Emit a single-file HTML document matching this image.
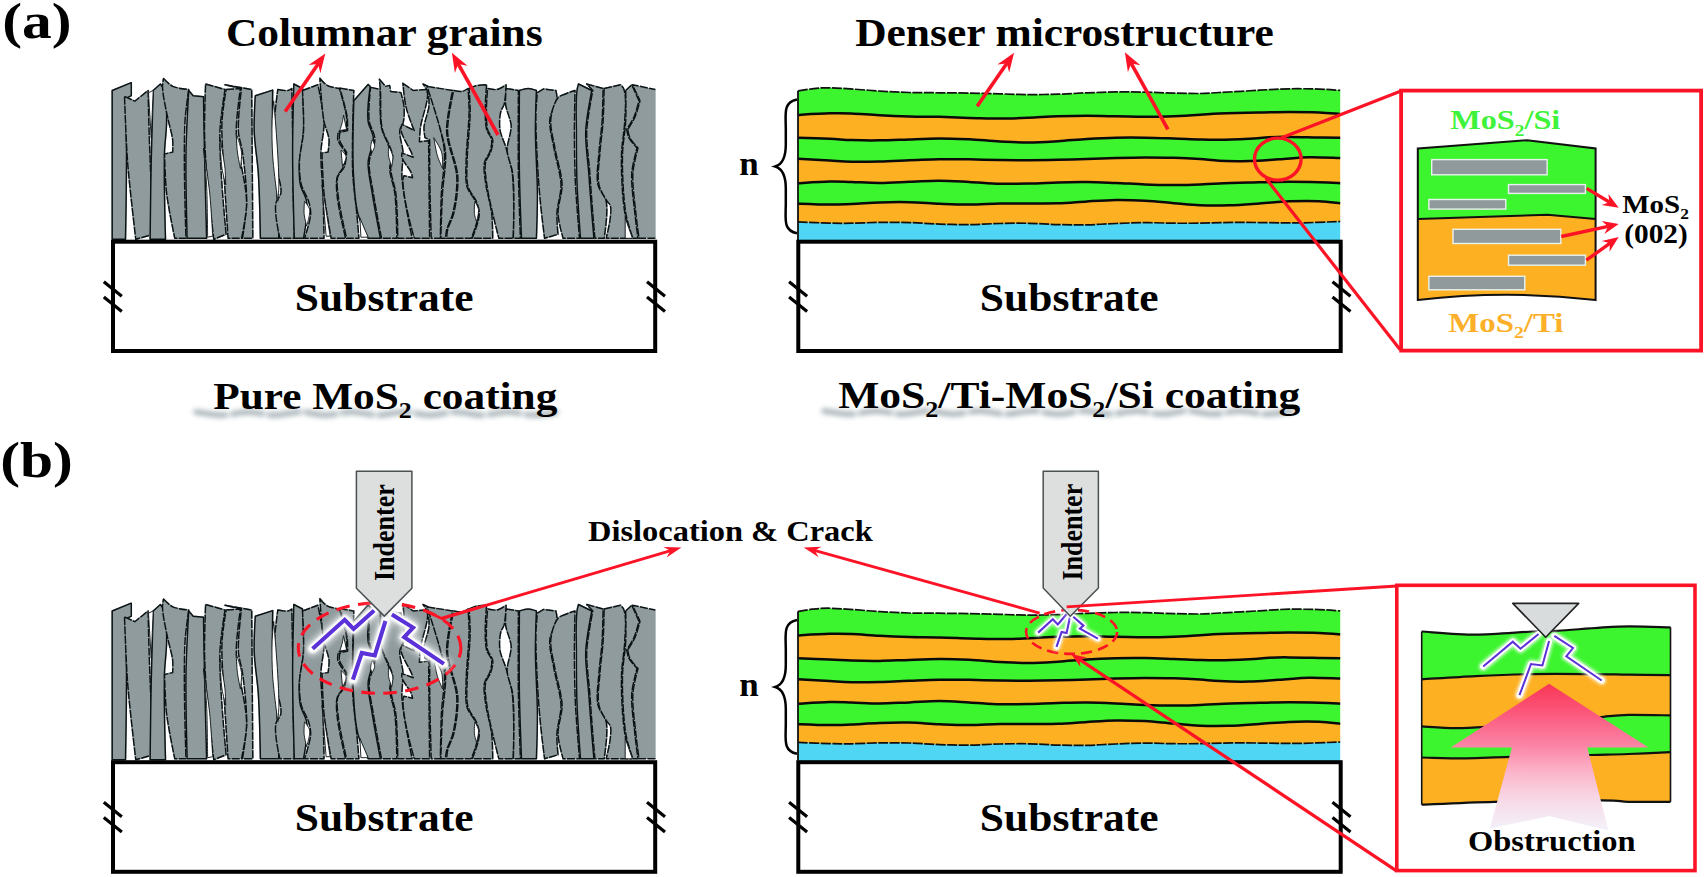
<!DOCTYPE html>
<html><head><meta charset="utf-8"><title>Coating microstructure schematic</title>
<style>html,body{margin:0;padding:0;background:#fff;overflow:hidden}svg{display:block}text{font-family:"Liberation Serif","Times New Roman",serif;font-weight:bold}</style>
</head><body>
<svg width="1706" height="877" viewBox="0 0 1706 877">
<defs>
<filter id="blur2" x="-10%" y="-300%" width="120%" height="700%"><feGaussianBlur stdDeviation="2.4"/></filter>
<filter id="glow" x="-30%" y="-30%" width="160%" height="160%"><feGaussianBlur stdDeviation="3.2"/></filter>
<filter id="glow1" x="-30%" y="-30%" width="160%" height="160%"><feGaussianBlur stdDeviation="1.6"/></filter>
<filter id="glowb" x="-30%" y="-30%" width="160%" height="160%"><feGaussianBlur stdDeviation="1.3"/></filter>
<filter id="glow1b" x="-30%" y="-30%" width="160%" height="160%"><feGaussianBlur stdDeviation="0.7"/></filter>
<linearGradient id="pink" x1="0" y1="0" x2="0" y2="1"><stop offset="0" stop-color="#f93656"/><stop offset="0.2" stop-color="#fb587c"/><stop offset="0.43" stop-color="#fb86a8"/><stop offset="0.6" stop-color="#fbb4c9"/><stop offset="0.8" stop-color="#f7dbe8"/><stop offset="1" stop-color="#f3f2fb"/></linearGradient>
</defs>
<rect width="1706" height="877" fill="#fff"/>
<g stroke="#909b9e" stroke-width="1.5" stroke-linejoin="round" fill="#909b9e">
<path d="M112.2,90.5L131.3,82.7L131.3,95.7L125.5,98.7C125.5,98.7 126.4,136.0 126.5,152.0C126.6,178.2 125.5,239.3 125.5,239.3L112.2,239.3L112.2,90.5Z"/>
<path d="M124.5,96.3L134.8,101.2L148.1,90.5C148.1,90.5 148.7,119.3 149.1,131.6C150.1,162.4 153.2,234.2 153.2,234.2L135.8,239.3C135.8,239.3 129.4,185.5 127.6,162.3C126.1,142.5 124.5,96.3 124.5,96.3Z"/>
<path d="M153.2,90.5L160.4,84.0C160.4,84.0 163.8,88.3 164.5,90.5C167.4,99.3 166.6,112.0 166.6,121.3C166.6,130.6 164.8,142.8 164.5,152.1C163.8,178.3 165.5,239.3 165.5,239.3L150.1,239.3C150.1,239.3 150.7,185.4 151.2,162.3C151.7,140.8 153.2,90.5 153.2,90.5Z"/>
<path d="M163.5,78.6C163.5,78.6 169.4,84.8 172.7,86.4C177.1,88.5 188.7,89.5 188.7,89.5C188.7,89.5 185.5,111.7 185.0,121.3C183.1,156.4 186.0,238.3 186.0,238.3L174.8,238.3C174.8,238.3 168.2,206.8 166.6,193.1C165.2,181.5 164.5,154.1 164.5,154.1L172.7,152.1C172.7,152.1 173.1,143.5 172.7,139.8C171.9,132.9 168.9,124.0 167.6,117.2C165.8,108.0 162.7,95.8 162.5,86.4C162.5,84.0 163.5,78.6 163.5,78.6Z"/>
<path d="M188.7,90.5L193.2,95.7L203.5,96.7C203.5,96.7 204.1,135.5 204.5,152.1C205.0,178.0 206.6,238.3 206.6,238.3L187.1,238.3C187.1,238.3 185.6,178.0 186.0,152.1C186.3,133.6 188.7,90.5 188.7,90.5Z"/>
<path d="M205.6,84.0L225.0,89.5C225.0,89.5 220.3,118.9 219.9,131.6C219.0,162.4 226.1,234.2 226.1,234.2L213.8,239.3C213.8,239.3 208.2,192.7 206.6,172.6C205.6,160.3 204.7,143.9 204.5,131.6C204.3,117.3 205.6,84.0 205.6,84.0Z"/>
<path d="M225.0,84.8L251.7,89.5L252.8,238.3L242.5,238.3C242.5,238.3 246.4,213.9 246.6,203.4C246.9,188.0 244.6,167.4 242.5,152.1C241.6,145.9 238.8,137.9 238.4,131.6C237.6,118.7 241.5,88.5 241.5,88.5L225.0,84.8Z"/>
<path d="M226.1,89.5L240.4,88.5C240.4,88.5 236.0,118.6 236.3,131.6C236.8,153.4 246.6,181.6 246.6,203.4C246.6,214.0 241.5,238.3 241.5,238.3L228.1,238.3C228.1,238.3 225.0,192.3 224.0,172.6C223.2,157.2 221.3,136.7 222.0,121.3C222.4,111.7 226.1,89.5 226.1,89.5Z"/>
<path d="M255.3,95.7L272.7,90.1C272.7,90.1 272.2,119.2 272.7,131.6C273.2,143.9 275.0,160.3 275.8,172.6C277.0,192.3 278.9,238.3 278.9,238.3L260.4,238.3C260.4,238.3 259.6,192.3 258.3,172.6C257.5,160.3 254.6,144.0 254.2,131.6C253.8,120.8 255.3,95.7 255.3,95.7Z"/>
<path d="M277.8,89.5C277.8,89.5 285.1,91.1 288.1,90.5C289.3,90.3 291.8,88.5 291.8,88.5C291.8,88.5 292.4,118.7 292.6,131.6C292.9,150.0 292.9,174.7 293.2,193.1C293.4,206.7 294.3,238.3 294.3,238.3L279.9,238.3C279.9,238.3 274.0,213.8 275.8,203.4C276.4,200.0 280.4,196.5 280.9,193.1C282.0,185.7 277.7,175.9 276.8,168.5C275.4,157.5 273.6,142.7 273.7,131.6C273.8,118.9 277.8,89.5 277.8,89.5Z"/>
<path d="M293.8,84.0L302.5,88.5C302.5,88.5 304.2,118.7 303.5,131.6C303.0,140.9 299.8,153.0 299.4,162.3C299.1,169.1 299.0,178.3 300.4,184.9C301.5,190.1 305.7,196.1 306.6,201.3C307.5,206.2 307.0,212.9 306.6,217.8C306.1,224.0 303.5,238.3 303.5,238.3L294.3,238.3C294.3,238.3 292.6,178.0 292.6,152.1C292.6,131.7 293.8,84.0 293.8,84.0Z"/>
<path d="M302.5,90.5L317.9,84.8C317.9,84.8 323.7,111.7 324.0,123.4C324.2,132.1 321.1,143.4 320.9,152.1C320.6,164.4 322.5,180.8 323.0,193.1C323.5,206.7 324.0,238.3 324.0,238.3L304.5,238.3C304.5,238.3 310.4,221.2 310.7,213.6C310.8,209.9 309.7,204.9 308.6,201.3C307.1,196.2 302.7,190.1 301.4,184.9C299.7,178.3 299.2,169.1 299.4,162.3C299.6,153.0 303.0,140.9 303.5,131.6C304.2,119.3 302.5,90.5 302.5,90.5Z"/>
<path d="M319.9,78.2C319.9,78.2 324.4,83.9 327.1,85.4C330.4,87.3 339.4,88.5 339.4,88.5C339.4,88.5 345.5,108.4 346.6,117.2C347.1,120.9 346.6,129.5 346.6,129.5L338.4,131.6C338.4,131.6 337.2,137.4 337.8,139.8C338.9,144.0 345.6,152.1 345.6,152.1C345.6,152.1 345.0,162.4 343.5,166.5C342.3,169.9 338.3,173.3 337.3,176.7C335.6,182.6 336.7,191.1 337.3,197.2C338.6,209.7 345.6,238.3 345.6,238.3L331.2,238.3C331.2,238.3 325.4,206.8 324.0,193.1C322.8,181.1 322.0,153.1 322.0,153.1L328.1,152.1C328.1,152.1 329.4,143.5 329.1,139.8C328.6,134.1 325.0,127.0 324.0,121.3C321.7,108.5 319.9,78.2 319.9,78.2Z"/>
<path d="M339.8,88.1L353.8,90.5C353.8,90.5 351.6,148.0 352.7,172.6C353.2,184.9 355.7,201.3 356.8,213.6C357.5,221.0 358.9,238.3 358.9,238.3L346.6,238.3C346.6,238.3 339.8,209.7 338.4,197.2C337.7,191.1 336.1,182.6 337.8,176.7C338.8,173.2 343.2,169.9 344.5,166.5C346.1,162.4 346.6,152.1 346.6,152.1C346.6,152.1 340.4,144.0 339.4,139.8C338.9,137.7 339.8,132.6 339.8,132.6L347.6,130.5C347.6,130.5 347.8,121.2 347.2,117.2C345.9,108.3 339.8,88.1 339.8,88.1Z"/>
<path d="M353.8,100.8L368.1,84.4L370.2,86.4C370.2,86.4 366.8,110.9 368.1,121.3C368.7,126.4 373.0,132.5 373.3,137.7C373.7,145.2 368.4,154.8 368.1,162.3C367.7,171.6 370.8,183.9 372.2,193.1C374.3,206.7 380.4,238.3 380.4,238.3L368.1,238.3C368.1,238.3 359.9,221.4 357.9,213.6C354.8,201.6 354.0,185.0 353.4,172.6C352.3,151.1 353.8,100.8 353.8,100.8Z"/>
<path d="M370.6,87.4L380.4,89.5C380.4,89.5 379.2,116.3 381.5,127.5C382.7,133.3 386.7,140.3 388.6,145.9C389.6,149.0 391.5,153.0 391.7,156.2C391.9,159.9 389.6,164.8 389.7,168.5C389.9,176.0 393.9,185.6 394.8,193.1C396.5,206.6 396.8,238.3 396.8,238.3L381.5,238.3C381.5,238.3 375.4,206.7 373.3,193.1C371.9,183.9 368.7,171.6 369.2,162.3C369.6,155.0 375.2,146.0 374.9,138.7C374.7,133.2 370.0,126.7 369.2,121.3C367.8,111.2 370.6,87.4 370.6,87.4Z"/>
<path d="M379.4,79.2L385.5,86.4L389.6,85.4L390.7,91.5L400.9,92.6C400.9,92.6 403.7,102.5 404.0,106.9C404.4,111.8 404.3,118.6 403.0,123.4C402.5,125.4 400.2,127.5 399.9,129.5C398.8,136.2 402.7,145.3 403.0,152.1C403.3,159.5 401.5,169.3 401.9,176.7C403.0,195.4 412.2,238.3 412.2,238.3L397.8,238.3C397.8,238.3 397.5,206.6 395.8,193.1C394.9,185.6 390.9,176.0 390.7,168.5C390.6,164.8 392.9,159.9 392.7,156.2C392.5,153.0 390.7,148.9 389.6,145.9C387.7,140.9 383.6,134.7 382.4,129.5C379.7,118.1 381.2,102.2 380.4,90.5C380.2,87.1 379.4,79.2 379.4,79.2Z"/>
<path d="M402.9,83.3L413.2,90.5L426.6,89.5C426.6,89.5 427.6,93.0 427.6,94.6C427.5,104.7 421.8,117.5 420.4,127.5C419.8,131.8 419.4,141.8 419.4,141.8L428.6,140.8L429.6,238.3L414.3,238.3C414.3,238.3 402.1,196.9 403.0,178.8C403.0,177.8 403.9,175.7 403.9,175.7L412.6,177.7C412.6,177.7 411.8,174.1 411.2,172.6C409.1,167.6 403.3,162.4 401.9,157.2C401.6,156.0 401.9,153.1 401.9,153.1L413.2,157.2C413.2,157.2 411.8,153.6 411.2,152.1C408.3,145.2 401.8,136.9 400.9,129.5C400.7,128.0 401.9,124.4 401.9,124.4L414.3,130.5C414.3,130.5 412.8,127.0 412.2,125.4C410.2,119.9 407.3,112.6 406.0,106.9C404.4,99.9 402.9,83.3 402.9,83.3Z"/>
<path d="M423.0,84.0L428.1,86.4C428.1,86.4 437.4,116.4 440.4,129.5C442.0,136.2 444.1,145.2 444.5,152.1C445.1,164.4 442.0,180.8 441.4,193.1C440.7,206.6 440.4,238.3 440.4,238.3L431.2,238.3C431.2,238.3 429.9,192.3 429.7,172.6C429.6,162.8 429.7,139.8 429.7,139.8L425.0,137.7C425.0,137.7 423.8,130.6 424.0,127.5C424.4,120.6 428.8,111.8 429.1,104.9C429.3,100.5 428.6,94.6 427.1,90.5C426.3,88.3 423.0,84.0 423.0,84.0Z"/>
<path d="M427.1,86.4L452.7,90.5C452.7,90.5 446.1,119.1 446.6,131.6C447.1,145.5 456.0,162.8 456.8,176.7C457.4,187.8 455.3,202.8 452.7,213.6C451.5,218.7 447.9,224.9 446.6,230.0C446.0,232.4 445.5,238.3 445.5,238.3L440.8,238.3C440.8,238.3 441.7,206.6 442.5,193.1C443.2,180.8 446.4,164.4 445.5,152.1C445.0,145.2 442.2,136.2 440.4,129.5C436.9,116.4 427.1,86.4 427.1,86.4Z"/>
<path d="M453.7,90.5C453.7,90.5 459.5,91.9 462.0,91.5C464.0,91.2 468.1,88.5 468.1,88.5C468.1,88.5 469.1,104.2 469.1,111.0C469.0,126.4 466.2,146.9 466.1,162.3C466.0,169.7 465.0,179.9 467.1,187.0C468.5,191.8 473.4,196.7 475.3,201.3C476.7,204.8 478.5,209.8 478.4,213.6C478.3,221.3 471.2,238.3 471.2,238.3L446.6,238.3C446.6,238.3 447.0,232.4 447.6,230.0C448.8,224.9 452.5,218.7 453.7,213.6C456.3,202.8 458.4,187.8 457.8,176.7C457.0,162.8 448.1,145.5 447.6,131.6C447.1,119.1 453.7,90.5 453.7,90.5Z"/>
<path d="M469.1,88.5C469.1,88.5 473.4,86.5 475.3,86.0C478.6,85.2 486.6,84.8 486.6,84.8C486.6,84.8 483.5,116.4 486.6,129.5C487.4,132.9 491.2,136.4 491.7,139.8C492.3,143.5 490.9,148.5 489.7,152.1C488.6,155.4 485.2,158.9 484.5,162.3C483.2,168.4 484.8,176.8 485.6,182.9C486.8,192.2 490.6,204.3 491.7,213.6C492.6,221.0 492.7,238.3 492.7,238.3L472.2,238.3C472.2,238.3 479.3,221.3 479.4,213.6C479.5,209.8 477.7,204.8 476.3,201.3C474.4,196.7 469.5,191.8 468.1,187.0C466.0,179.9 467.0,169.7 467.1,162.3C467.3,146.9 470.1,126.4 470.2,111.0C470.2,104.2 469.1,88.5 469.1,88.5Z"/>
<path d="M487.6,88.5C487.6,88.5 494.1,90.0 496.8,89.5C499.9,88.9 506.1,84.8 506.1,84.8C506.1,84.8 505.7,99.1 504.0,104.9C503.4,106.9 501.4,109.0 500.9,111.0C499.5,116.4 499.2,124.0 499.9,129.5C500.7,135.3 504.5,142.4 506.1,148.0C508.2,155.3 511.2,165.1 512.2,172.6C514.8,192.1 513.3,238.3 513.3,238.3L498.9,238.3C498.9,238.3 494.4,221.1 492.7,213.6C490.6,204.4 487.7,192.2 486.6,182.9C485.8,176.8 484.3,168.4 485.6,162.3C486.3,159.0 489.6,155.4 490.7,152.1C491.8,148.5 493.3,143.5 492.7,139.8C492.2,136.4 488.4,132.9 487.6,129.5C484.8,117.5 487.6,88.5 487.6,88.5Z"/>
<path d="M506.1,88.5L518.4,90.5C518.4,90.5 518.0,148.0 518.4,172.6C518.7,192.3 520.4,238.3 520.4,238.3L513.3,238.3C513.3,238.3 515.1,192.2 512.6,172.6C511.7,165.7 507.3,157.0 507.1,150.0C507.0,144.4 509.8,137.2 510.6,131.6C510.9,129.8 511.4,127.3 511.2,125.4C510.7,119.1 506.5,111.2 505.7,104.9C505.1,100.0 506.1,88.5 506.1,88.5Z"/>
<path d="M519.4,90.5C519.4,90.5 525.5,88.5 528.2,88.5C530.7,88.5 536.4,90.5 536.4,90.5C536.4,90.5 535.3,119.3 535.4,131.6C535.5,150.1 537.3,174.6 537.4,193.1C537.5,206.7 536.4,238.3 536.4,238.3L521.5,238.3C521.5,238.3 519.7,192.3 519.4,172.6C519.0,148.0 519.4,90.5 519.4,90.5Z"/>
<path d="M537.4,92.6L543.6,88.9L555.9,90.5C555.9,90.5 557.1,95.5 556.9,97.7C556.3,104.5 550.4,112.5 549.8,119.3C549.0,128.0 552.5,139.4 553.9,148.0C555.8,159.1 560.7,173.6 561.0,184.9C561.2,193.6 557.3,204.9 556.9,213.6C556.6,219.8 558.0,234.2 558.0,234.2L544.6,238.3C544.6,238.3 541.5,213.9 540.5,203.4C539.3,191.1 538.0,174.6 537.4,162.3C536.6,146.9 535.6,126.4 536.0,111.0C536.1,105.5 537.4,92.6 537.4,92.6Z"/>
<path d="M561.0,95.7C565.0,93.7 575.0,90.5 575.0,90.5C575.0,90.5 574.4,119.3 574.4,131.6C574.4,147.0 574.7,167.5 575.4,182.9C576.2,199.5 579.5,238.3 579.5,238.3L563.1,238.3C563.1,238.3 558.2,221.2 558.0,213.6C557.7,204.9 562.3,193.6 562.1,184.9C561.8,173.6 556.8,159.1 554.9,148.0C553.5,139.4 550.0,128.0 550.8,119.3C551.4,112.5 553.9,103.1 558.0,97.7C558.7,96.8 560.0,96.2 561.0,95.7Z"/>
<path d="M578.5,84.0L591.8,90.5C591.8,90.5 586.2,119.1 585.7,131.6C585.2,143.9 587.8,160.3 588.7,172.6C589.6,184.9 590.8,201.3 591.8,213.6C592.4,221.0 593.9,238.3 593.9,238.3L580.5,238.3C580.5,238.3 577.6,199.5 577.0,182.9C576.4,167.5 576.4,147.0 576.4,131.6C576.4,119.3 575.5,102.7 577.0,90.5C577.2,88.5 578.5,84.0 578.5,84.0Z"/>
<path d="M586.7,84.0L603.1,88.5C603.1,88.5 602.7,111.5 602.1,121.3C601.5,130.6 599.6,142.8 599.0,152.1C598.4,161.9 595.9,175.3 598.0,184.9C599.2,190.3 605.1,195.9 606.2,201.3C608.4,212.2 604.1,238.3 604.1,238.3L594.9,238.3C594.9,238.3 593.4,221.0 592.8,213.6C591.8,201.3 590.7,184.9 589.8,172.6C588.9,160.3 586.3,143.9 586.7,131.6C587.1,119.1 592.8,90.5 592.8,90.5L586.7,84.0Z"/>
<path d="M604.1,88.5L620.6,84.8C620.6,84.8 623.1,87.2 623.6,88.5C627.0,97.7 625.0,111.5 624.7,121.3C624.4,130.6 622.0,142.8 621.6,152.1C621.1,164.4 621.7,180.8 622.6,193.1C623.2,200.5 624.2,210.5 625.7,217.8C627.0,224.1 631.8,238.3 631.8,238.3L606.2,238.3C606.2,238.3 609.7,224.0 610.3,217.8C610.7,214.1 611.5,208.9 610.3,205.4C609.8,203.9 608.0,202.6 607.2,201.3C604.3,196.6 600.2,190.3 599.0,184.9C596.9,175.3 599.4,161.9 600.0,152.1C600.6,142.8 602.5,130.6 603.1,121.3C603.7,111.5 604.1,88.5 604.1,88.5Z"/>
<path d="M632.5,84.8L655.4,89.5L655.4,238.3L639.0,238.3C639.0,238.3 636.6,221.0 635.9,213.6C634.7,201.3 632.1,184.9 632.9,172.6C633.4,165.1 638.0,148.0 638.0,148.0C638.0,148.0 631.6,141.2 629.8,137.7C628.7,135.4 627.7,129.5 627.7,129.5C627.7,129.5 633.2,121.1 634.9,117.2C637.0,112.5 640.0,100.8 640.0,100.8L632.5,84.8Z" stroke="none"/>
<path d="M625.7,90.5L631.8,84.8L639.0,100.8C639.0,100.8 636.0,112.5 633.9,117.2C632.2,121.1 626.7,129.5 626.7,129.5C626.7,129.5 627.7,135.4 628.8,137.7C630.6,141.2 637.0,148.0 637.0,148.0C637.0,148.0 632.3,165.1 631.8,172.6C631.0,184.9 633.7,201.3 634.9,213.6C635.6,221.0 638.0,238.3 638.0,238.3L632.9,238.3C632.9,238.3 628.0,224.1 626.7,217.8C625.1,210.5 624.2,200.5 623.6,193.1C622.7,180.8 622.1,164.4 622.6,152.1C623.0,142.8 625.2,130.6 625.7,121.3C626.2,112.1 625.7,90.5 625.7,90.5Z"/>
</g>
<g stroke="#0a1214" stroke-width="1.45" stroke-linejoin="round" fill="#909b9e">
<path d="M112.2,90.5L131.3,82.7L131.3,95.7L125.5,98.7C125.5,98.7 126.4,136.0 126.5,152.0C126.6,178.2 125.5,239.3 125.5,239.3L112.2,239.3L112.2,90.5Z"/>
<path d="M124.5,96.3L134.8,101.2L148.1,90.5C148.1,90.5 148.7,119.3 149.1,131.6C150.1,162.4 153.2,234.2 153.2,234.2L135.8,239.3C135.8,239.3 129.4,185.5 127.6,162.3C126.1,142.5 124.5,96.3 124.5,96.3Z" stroke-dasharray="8 1.3"/>
<path d="M153.2,90.5L160.4,84.0C160.4,84.0 163.8,88.3 164.5,90.5C167.4,99.3 166.6,112.0 166.6,121.3C166.6,130.6 164.8,142.8 164.5,152.1C163.8,178.3 165.5,239.3 165.5,239.3L150.1,239.3C150.1,239.3 150.7,185.4 151.2,162.3C151.7,140.8 153.2,90.5 153.2,90.5Z"/>
<path d="M163.5,78.6C163.5,78.6 169.4,84.8 172.7,86.4C177.1,88.5 188.7,89.5 188.7,89.5C188.7,89.5 185.5,111.7 185.0,121.3C183.1,156.4 186.0,238.3 186.0,238.3L174.8,238.3C174.8,238.3 168.2,206.8 166.6,193.1C165.2,181.5 164.5,154.1 164.5,154.1L172.7,152.1C172.7,152.1 173.1,143.5 172.7,139.8C171.9,132.9 168.9,124.0 167.6,117.2C165.8,108.0 162.7,95.8 162.5,86.4C162.5,84.0 163.5,78.6 163.5,78.6Z" stroke-dasharray="8 1.3"/>
<path d="M188.7,90.5L193.2,95.7L203.5,96.7C203.5,96.7 204.1,135.5 204.5,152.1C205.0,178.0 206.6,238.3 206.6,238.3L187.1,238.3C187.1,238.3 185.6,178.0 186.0,152.1C186.3,133.6 188.7,90.5 188.7,90.5Z"/>
<path d="M205.6,84.0L225.0,89.5C225.0,89.5 220.3,118.9 219.9,131.6C219.0,162.4 226.1,234.2 226.1,234.2L213.8,239.3C213.8,239.3 208.2,192.7 206.6,172.6C205.6,160.3 204.7,143.9 204.5,131.6C204.3,117.3 205.6,84.0 205.6,84.0Z" stroke-dasharray="8 1.3"/>
<path d="M225.0,84.8L251.7,89.5L252.8,238.3L242.5,238.3C242.5,238.3 246.4,213.9 246.6,203.4C246.9,188.0 244.6,167.4 242.5,152.1C241.6,145.9 238.8,137.9 238.4,131.6C237.6,118.7 241.5,88.5 241.5,88.5L225.0,84.8Z" stroke-dasharray="8 1.3"/>
<path d="M226.1,89.5L240.4,88.5C240.4,88.5 236.0,118.6 236.3,131.6C236.8,153.4 246.6,181.6 246.6,203.4C246.6,214.0 241.5,238.3 241.5,238.3L228.1,238.3C228.1,238.3 225.0,192.3 224.0,172.6C223.2,157.2 221.3,136.7 222.0,121.3C222.4,111.7 226.1,89.5 226.1,89.5Z" stroke-dasharray="8 1.3"/>
<path d="M255.3,95.7L272.7,90.1C272.7,90.1 272.2,119.2 272.7,131.6C273.2,143.9 275.0,160.3 275.8,172.6C277.0,192.3 278.9,238.3 278.9,238.3L260.4,238.3C260.4,238.3 259.6,192.3 258.3,172.6C257.5,160.3 254.6,144.0 254.2,131.6C253.8,120.8 255.3,95.7 255.3,95.7Z"/>
<path d="M277.8,89.5C277.8,89.5 285.1,91.1 288.1,90.5C289.3,90.3 291.8,88.5 291.8,88.5C291.8,88.5 292.4,118.7 292.6,131.6C292.9,150.0 292.9,174.7 293.2,193.1C293.4,206.7 294.3,238.3 294.3,238.3L279.9,238.3C279.9,238.3 274.0,213.8 275.8,203.4C276.4,200.0 280.4,196.5 280.9,193.1C282.0,185.7 277.7,175.9 276.8,168.5C275.4,157.5 273.6,142.7 273.7,131.6C273.8,118.9 277.8,89.5 277.8,89.5Z" stroke-dasharray="8 1.3"/>
<path d="M293.8,84.0L302.5,88.5C302.5,88.5 304.2,118.7 303.5,131.6C303.0,140.9 299.8,153.0 299.4,162.3C299.1,169.1 299.0,178.3 300.4,184.9C301.5,190.1 305.7,196.1 306.6,201.3C307.5,206.2 307.0,212.9 306.6,217.8C306.1,224.0 303.5,238.3 303.5,238.3L294.3,238.3C294.3,238.3 292.6,178.0 292.6,152.1C292.6,131.7 293.8,84.0 293.8,84.0Z"/>
<path d="M302.5,90.5L317.9,84.8C317.9,84.8 323.7,111.7 324.0,123.4C324.2,132.1 321.1,143.4 320.9,152.1C320.6,164.4 322.5,180.8 323.0,193.1C323.5,206.7 324.0,238.3 324.0,238.3L304.5,238.3C304.5,238.3 310.4,221.2 310.7,213.6C310.8,209.9 309.7,204.9 308.6,201.3C307.1,196.2 302.7,190.1 301.4,184.9C299.7,178.3 299.2,169.1 299.4,162.3C299.6,153.0 303.0,140.9 303.5,131.6C304.2,119.3 302.5,90.5 302.5,90.5Z" stroke-dasharray="8 1.3"/>
<path d="M319.9,78.2C319.9,78.2 324.4,83.9 327.1,85.4C330.4,87.3 339.4,88.5 339.4,88.5C339.4,88.5 345.5,108.4 346.6,117.2C347.1,120.9 346.6,129.5 346.6,129.5L338.4,131.6C338.4,131.6 337.2,137.4 337.8,139.8C338.9,144.0 345.6,152.1 345.6,152.1C345.6,152.1 345.0,162.4 343.5,166.5C342.3,169.9 338.3,173.3 337.3,176.7C335.6,182.6 336.7,191.1 337.3,197.2C338.6,209.7 345.6,238.3 345.6,238.3L331.2,238.3C331.2,238.3 325.4,206.8 324.0,193.1C322.8,181.1 322.0,153.1 322.0,153.1L328.1,152.1C328.1,152.1 329.4,143.5 329.1,139.8C328.6,134.1 325.0,127.0 324.0,121.3C321.7,108.5 319.9,78.2 319.9,78.2Z" stroke-dasharray="8 1.3"/>
<path d="M339.8,88.1L353.8,90.5C353.8,90.5 351.6,148.0 352.7,172.6C353.2,184.9 355.7,201.3 356.8,213.6C357.5,221.0 358.9,238.3 358.9,238.3L346.6,238.3C346.6,238.3 339.8,209.7 338.4,197.2C337.7,191.1 336.1,182.6 337.8,176.7C338.8,173.2 343.2,169.9 344.5,166.5C346.1,162.4 346.6,152.1 346.6,152.1C346.6,152.1 340.4,144.0 339.4,139.8C338.9,137.7 339.8,132.6 339.8,132.6L347.6,130.5C347.6,130.5 347.8,121.2 347.2,117.2C345.9,108.3 339.8,88.1 339.8,88.1Z" stroke-dasharray="8 1.3"/>
<path d="M353.8,100.8L368.1,84.4L370.2,86.4C370.2,86.4 366.8,110.9 368.1,121.3C368.7,126.4 373.0,132.5 373.3,137.7C373.7,145.2 368.4,154.8 368.1,162.3C367.7,171.6 370.8,183.9 372.2,193.1C374.3,206.7 380.4,238.3 380.4,238.3L368.1,238.3C368.1,238.3 359.9,221.4 357.9,213.6C354.8,201.6 354.0,185.0 353.4,172.6C352.3,151.1 353.8,100.8 353.8,100.8Z"/>
<path d="M370.6,87.4L380.4,89.5C380.4,89.5 379.2,116.3 381.5,127.5C382.7,133.3 386.7,140.3 388.6,145.9C389.6,149.0 391.5,153.0 391.7,156.2C391.9,159.9 389.6,164.8 389.7,168.5C389.9,176.0 393.9,185.6 394.8,193.1C396.5,206.6 396.8,238.3 396.8,238.3L381.5,238.3C381.5,238.3 375.4,206.7 373.3,193.1C371.9,183.9 368.7,171.6 369.2,162.3C369.6,155.0 375.2,146.0 374.9,138.7C374.7,133.2 370.0,126.7 369.2,121.3C367.8,111.2 370.6,87.4 370.6,87.4Z" stroke-dasharray="8 1.3"/>
<path d="M379.4,79.2L385.5,86.4L389.6,85.4L390.7,91.5L400.9,92.6C400.9,92.6 403.7,102.5 404.0,106.9C404.4,111.8 404.3,118.6 403.0,123.4C402.5,125.4 400.2,127.5 399.9,129.5C398.8,136.2 402.7,145.3 403.0,152.1C403.3,159.5 401.5,169.3 401.9,176.7C403.0,195.4 412.2,238.3 412.2,238.3L397.8,238.3C397.8,238.3 397.5,206.6 395.8,193.1C394.9,185.6 390.9,176.0 390.7,168.5C390.6,164.8 392.9,159.9 392.7,156.2C392.5,153.0 390.7,148.9 389.6,145.9C387.7,140.9 383.6,134.7 382.4,129.5C379.7,118.1 381.2,102.2 380.4,90.5C380.2,87.1 379.4,79.2 379.4,79.2Z" stroke-dasharray="8 1.3"/>
<path d="M402.9,83.3L413.2,90.5L426.6,89.5C426.6,89.5 427.6,93.0 427.6,94.6C427.5,104.7 421.8,117.5 420.4,127.5C419.8,131.8 419.4,141.8 419.4,141.8L428.6,140.8L429.6,238.3L414.3,238.3C414.3,238.3 402.1,196.9 403.0,178.8C403.0,177.8 403.9,175.7 403.9,175.7L412.6,177.7C412.6,177.7 411.8,174.1 411.2,172.6C409.1,167.6 403.3,162.4 401.9,157.2C401.6,156.0 401.9,153.1 401.9,153.1L413.2,157.2C413.2,157.2 411.8,153.6 411.2,152.1C408.3,145.2 401.8,136.9 400.9,129.5C400.7,128.0 401.9,124.4 401.9,124.4L414.3,130.5C414.3,130.5 412.8,127.0 412.2,125.4C410.2,119.9 407.3,112.6 406.0,106.9C404.4,99.9 402.9,83.3 402.9,83.3Z" stroke-dasharray="8 1.3"/>
<path d="M423.0,84.0L428.1,86.4C428.1,86.4 437.4,116.4 440.4,129.5C442.0,136.2 444.1,145.2 444.5,152.1C445.1,164.4 442.0,180.8 441.4,193.1C440.7,206.6 440.4,238.3 440.4,238.3L431.2,238.3C431.2,238.3 429.9,192.3 429.7,172.6C429.6,162.8 429.7,139.8 429.7,139.8L425.0,137.7C425.0,137.7 423.8,130.6 424.0,127.5C424.4,120.6 428.8,111.8 429.1,104.9C429.3,100.5 428.6,94.6 427.1,90.5C426.3,88.3 423.0,84.0 423.0,84.0Z" stroke-dasharray="8 1.3"/>
<path d="M427.1,86.4L452.7,90.5C452.7,90.5 446.1,119.1 446.6,131.6C447.1,145.5 456.0,162.8 456.8,176.7C457.4,187.8 455.3,202.8 452.7,213.6C451.5,218.7 447.9,224.9 446.6,230.0C446.0,232.4 445.5,238.3 445.5,238.3L440.8,238.3C440.8,238.3 441.7,206.6 442.5,193.1C443.2,180.8 446.4,164.4 445.5,152.1C445.0,145.2 442.2,136.2 440.4,129.5C436.9,116.4 427.1,86.4 427.1,86.4Z" stroke-dasharray="8 1.3"/>
<path d="M453.7,90.5C453.7,90.5 459.5,91.9 462.0,91.5C464.0,91.2 468.1,88.5 468.1,88.5C468.1,88.5 469.1,104.2 469.1,111.0C469.0,126.4 466.2,146.9 466.1,162.3C466.0,169.7 465.0,179.9 467.1,187.0C468.5,191.8 473.4,196.7 475.3,201.3C476.7,204.8 478.5,209.8 478.4,213.6C478.3,221.3 471.2,238.3 471.2,238.3L446.6,238.3C446.6,238.3 447.0,232.4 447.6,230.0C448.8,224.9 452.5,218.7 453.7,213.6C456.3,202.8 458.4,187.8 457.8,176.7C457.0,162.8 448.1,145.5 447.6,131.6C447.1,119.1 453.7,90.5 453.7,90.5Z" stroke-dasharray="8 1.3"/>
<path d="M469.1,88.5C469.1,88.5 473.4,86.5 475.3,86.0C478.6,85.2 486.6,84.8 486.6,84.8C486.6,84.8 483.5,116.4 486.6,129.5C487.4,132.9 491.2,136.4 491.7,139.8C492.3,143.5 490.9,148.5 489.7,152.1C488.6,155.4 485.2,158.9 484.5,162.3C483.2,168.4 484.8,176.8 485.6,182.9C486.8,192.2 490.6,204.3 491.7,213.6C492.6,221.0 492.7,238.3 492.7,238.3L472.2,238.3C472.2,238.3 479.3,221.3 479.4,213.6C479.5,209.8 477.7,204.8 476.3,201.3C474.4,196.7 469.5,191.8 468.1,187.0C466.0,179.9 467.0,169.7 467.1,162.3C467.3,146.9 470.1,126.4 470.2,111.0C470.2,104.2 469.1,88.5 469.1,88.5Z" stroke-dasharray="8 1.3"/>
<path d="M487.6,88.5C487.6,88.5 494.1,90.0 496.8,89.5C499.9,88.9 506.1,84.8 506.1,84.8C506.1,84.8 505.7,99.1 504.0,104.9C503.4,106.9 501.4,109.0 500.9,111.0C499.5,116.4 499.2,124.0 499.9,129.5C500.7,135.3 504.5,142.4 506.1,148.0C508.2,155.3 511.2,165.1 512.2,172.6C514.8,192.1 513.3,238.3 513.3,238.3L498.9,238.3C498.9,238.3 494.4,221.1 492.7,213.6C490.6,204.4 487.7,192.2 486.6,182.9C485.8,176.8 484.3,168.4 485.6,162.3C486.3,159.0 489.6,155.4 490.7,152.1C491.8,148.5 493.3,143.5 492.7,139.8C492.2,136.4 488.4,132.9 487.6,129.5C484.8,117.5 487.6,88.5 487.6,88.5Z" stroke-dasharray="8 1.3"/>
<path d="M506.1,88.5L518.4,90.5C518.4,90.5 518.0,148.0 518.4,172.6C518.7,192.3 520.4,238.3 520.4,238.3L513.3,238.3C513.3,238.3 515.1,192.2 512.6,172.6C511.7,165.7 507.3,157.0 507.1,150.0C507.0,144.4 509.8,137.2 510.6,131.6C510.9,129.8 511.4,127.3 511.2,125.4C510.7,119.1 506.5,111.2 505.7,104.9C505.1,100.0 506.1,88.5 506.1,88.5Z" stroke-dasharray="8 1.3"/>
<path d="M519.4,90.5C519.4,90.5 525.5,88.5 528.2,88.5C530.7,88.5 536.4,90.5 536.4,90.5C536.4,90.5 535.3,119.3 535.4,131.6C535.5,150.1 537.3,174.6 537.4,193.1C537.5,206.7 536.4,238.3 536.4,238.3L521.5,238.3C521.5,238.3 519.7,192.3 519.4,172.6C519.0,148.0 519.4,90.5 519.4,90.5Z"/>
<path d="M537.4,92.6L543.6,88.9L555.9,90.5C555.9,90.5 557.1,95.5 556.9,97.7C556.3,104.5 550.4,112.5 549.8,119.3C549.0,128.0 552.5,139.4 553.9,148.0C555.8,159.1 560.7,173.6 561.0,184.9C561.2,193.6 557.3,204.9 556.9,213.6C556.6,219.8 558.0,234.2 558.0,234.2L544.6,238.3C544.6,238.3 541.5,213.9 540.5,203.4C539.3,191.1 538.0,174.6 537.4,162.3C536.6,146.9 535.6,126.4 536.0,111.0C536.1,105.5 537.4,92.6 537.4,92.6Z" stroke-dasharray="8 1.3"/>
<path d="M561.0,95.7C565.0,93.7 575.0,90.5 575.0,90.5C575.0,90.5 574.4,119.3 574.4,131.6C574.4,147.0 574.7,167.5 575.4,182.9C576.2,199.5 579.5,238.3 579.5,238.3L563.1,238.3C563.1,238.3 558.2,221.2 558.0,213.6C557.7,204.9 562.3,193.6 562.1,184.9C561.8,173.6 556.8,159.1 554.9,148.0C553.5,139.4 550.0,128.0 550.8,119.3C551.4,112.5 553.9,103.1 558.0,97.7C558.7,96.8 560.0,96.2 561.0,95.7Z" stroke-dasharray="8 1.3"/>
<path d="M578.5,84.0L591.8,90.5C591.8,90.5 586.2,119.1 585.7,131.6C585.2,143.9 587.8,160.3 588.7,172.6C589.6,184.9 590.8,201.3 591.8,213.6C592.4,221.0 593.9,238.3 593.9,238.3L580.5,238.3C580.5,238.3 577.6,199.5 577.0,182.9C576.4,167.5 576.4,147.0 576.4,131.6C576.4,119.3 575.5,102.7 577.0,90.5C577.2,88.5 578.5,84.0 578.5,84.0Z"/>
<path d="M586.7,84.0L603.1,88.5C603.1,88.5 602.7,111.5 602.1,121.3C601.5,130.6 599.6,142.8 599.0,152.1C598.4,161.9 595.9,175.3 598.0,184.9C599.2,190.3 605.1,195.9 606.2,201.3C608.4,212.2 604.1,238.3 604.1,238.3L594.9,238.3C594.9,238.3 593.4,221.0 592.8,213.6C591.8,201.3 590.7,184.9 589.8,172.6C588.9,160.3 586.3,143.9 586.7,131.6C587.1,119.1 592.8,90.5 592.8,90.5L586.7,84.0Z" stroke-dasharray="8 1.3"/>
<path d="M604.1,88.5L620.6,84.8C620.6,84.8 623.1,87.2 623.6,88.5C627.0,97.7 625.0,111.5 624.7,121.3C624.4,130.6 622.0,142.8 621.6,152.1C621.1,164.4 621.7,180.8 622.6,193.1C623.2,200.5 624.2,210.5 625.7,217.8C627.0,224.1 631.8,238.3 631.8,238.3L606.2,238.3C606.2,238.3 609.7,224.0 610.3,217.8C610.7,214.1 611.5,208.9 610.3,205.4C609.8,203.9 608.0,202.6 607.2,201.3C604.3,196.6 600.2,190.3 599.0,184.9C596.9,175.3 599.4,161.9 600.0,152.1C600.6,142.8 602.5,130.6 603.1,121.3C603.7,111.5 604.1,88.5 604.1,88.5Z" stroke-dasharray="8 1.3"/>
<path d="M632.5,84.8L655.4,89.5L655.4,238.3L639.0,238.3C639.0,238.3 636.6,221.0 635.9,213.6C634.7,201.3 632.1,184.9 632.9,172.6C633.4,165.1 638.0,148.0 638.0,148.0C638.0,148.0 631.6,141.2 629.8,137.7C628.7,135.4 627.7,129.5 627.7,129.5C627.7,129.5 633.2,121.1 634.9,117.2C637.0,112.5 640.0,100.8 640.0,100.8L632.5,84.8Z" stroke="none"/>
<path d="M655.4,238.3L639.0,238.3C639.0,238.3 636.6,221.0 635.9,213.6C634.7,201.3 632.1,184.9 632.9,172.6C633.4,165.1 638.0,148.0 638.0,148.0C638.0,148.0 631.6,141.2 629.8,137.7C628.7,135.4 627.7,129.5 627.7,129.5C627.7,129.5 633.2,121.1 634.9,117.2C637.0,112.5 640.0,100.8 640.0,100.8L632.5,84.8L655.4,89.5" fill="none" stroke-dasharray="8 1.3"/>
<path d="M625.7,90.5L631.8,84.8L639.0,100.8C639.0,100.8 636.0,112.5 633.9,117.2C632.2,121.1 626.7,129.5 626.7,129.5C626.7,129.5 627.7,135.4 628.8,137.7C630.6,141.2 637.0,148.0 637.0,148.0C637.0,148.0 632.3,165.1 631.8,172.6C631.0,184.9 633.7,201.3 634.9,213.6C635.6,221.0 638.0,238.3 638.0,238.3L632.9,238.3C632.9,238.3 628.0,224.1 626.7,217.8C625.1,210.5 624.2,200.5 623.6,193.1C622.7,180.8 622.1,164.4 622.6,152.1C623.0,142.8 625.2,130.6 625.7,121.3C626.2,112.1 625.7,90.5 625.7,90.5Z" stroke-dasharray="8 1.3"/>
</g>
<g fill="#fff" stroke="#0a1214" stroke-width="0.9" stroke-linejoin="round">
<path d="M203.5,148.0C203.5,148.0 208.3,179.5 209.7,193.1C211.0,206.0 212.7,236.2 212.7,236.2L207.6,237.2C207.6,237.2 207.4,200.6 206.6,184.9C206.0,173.8 203.5,148.0 203.5,148.0Z"/>
<path d="M219.9,137.7C219.9,137.7 224.0,159.2 225.0,168.5C225.5,173.4 225.7,184.9 225.7,184.9C225.7,184.9 222.7,173.5 222.0,168.5C220.7,159.3 219.9,137.7 219.9,137.7Z"/>
<path d="M236.3,133.6C236.3,133.6 240.9,146.4 241.5,152.1C242.0,157.0 240.4,168.5 240.4,168.5C240.4,168.5 238.0,157.1 237.4,152.1C236.7,146.6 236.3,133.6 236.3,133.6Z"/>
<path d="M148.5,92.6L153.2,90.5L151.2,137.7L148.5,92.6Z"/>
<path d="M273.7,100.8C273.7,100.8 279.0,159.6 278.9,184.9C278.9,189.8 277.8,201.3 277.8,201.3C277.8,201.3 273.6,169.8 272.7,156.2C272.0,145.8 271.8,131.8 272.1,121.3C272.3,115.1 273.7,100.8 273.7,100.8Z"/>
<path d="M304.5,201.3C304.5,201.3 309.1,206.7 309.6,209.5C310.5,214.4 306.6,226.0 306.6,226.0C306.6,226.0 304.4,217.4 304.1,213.6C303.8,209.9 304.5,201.3 304.5,201.3Z"/>
<path d="M343.5,115.1L346.6,129.5L339.8,130.5C339.8,130.5 341.9,124.1 342.5,121.3C342.9,119.5 343.5,115.1 343.5,115.1Z"/>
<path d="M341.0,150.0C341.0,150.0 345.6,153.8 346.0,156.2C346.6,159.4 342.5,166.5 342.5,166.5L341.0,150.0Z"/>
<path d="M372.2,139.8C372.2,139.8 374.7,143.9 374.7,145.9C374.7,147.9 372.2,152.1 372.2,152.1C372.2,152.1 370.7,149.3 370.6,148.0C370.4,145.5 372.2,139.8 372.2,139.8Z"/>
<path d="M388.6,145.9C388.6,145.9 392.3,152.9 392.8,156.2C393.2,159.3 391.7,166.5 391.7,166.5C391.7,166.5 389.1,159.4 388.6,156.2C388.1,153.1 388.6,145.9 388.6,145.9Z"/>
<path d="M322.0,184.9L330.2,236.2L326.1,236.2L322.0,184.9Z"/>
<path d="M359.9,217.8L368.1,237.2L360.9,237.2L359.9,217.8Z"/>
<path d="M433.8,137.7C433.8,137.7 440.2,147.4 441.6,152.1C443.0,156.8 442.6,168.5 442.6,168.5C442.6,168.5 438.7,160.0 437.5,156.2C435.9,150.8 433.8,137.7 433.8,137.7Z"/>
<path d="M474.8,201.3C474.8,201.3 478.1,206.8 478.5,209.5C479.0,213.2 476.5,221.8 476.5,221.8C476.5,221.8 474.7,216.1 474.4,213.6C474.0,209.9 474.8,201.3 474.8,201.3Z"/>
<path d="M625.2,217.8L632.4,238.3L625.2,238.3L625.2,217.8Z"/>
</g>
<rect x="113" y="241.7" width="542.2" height="109.30000000000001" fill="#fff" stroke="#000" stroke-width="4"/>
<line x1="103.8" y1="281.7" x2="121.8" y2="296.3" stroke="#000" stroke-width="3.2"/>
<line x1="103.8" y1="296.9" x2="121.8" y2="311.5" stroke="#000" stroke-width="3.2"/>
<line x1="647.0" y1="281.7" x2="665.0" y2="296.3" stroke="#000" stroke-width="3.2"/>
<line x1="647.0" y1="296.9" x2="665.0" y2="311.5" stroke="#000" stroke-width="3.2"/>
<g stroke="#909b9e" stroke-width="1.5" stroke-linejoin="round" fill="#909b9e">
<path d="M112.2,611.0L131.3,603.2L131.3,616.2L125.5,619.2C125.5,619.2 126.4,656.5 126.5,672.5C126.6,698.7 125.5,759.8 125.5,759.8L112.2,759.8L112.2,611.0Z"/>
<path d="M124.5,616.8L134.8,621.7L148.1,611.0C148.1,611.0 148.7,639.8 149.1,652.1C150.1,682.9 153.2,754.7 153.2,754.7L135.8,759.8C135.8,759.8 129.4,706.0 127.6,682.8C126.1,663.0 124.5,616.8 124.5,616.8Z"/>
<path d="M153.2,611.0L160.4,604.5C160.4,604.5 163.8,608.8 164.5,611.0C167.4,619.8 166.6,632.5 166.6,641.8C166.6,651.1 164.8,663.3 164.5,672.6C163.8,698.8 165.5,759.8 165.5,759.8L150.1,759.8C150.1,759.8 150.7,705.9 151.2,682.8C151.7,661.3 153.2,611.0 153.2,611.0Z"/>
<path d="M163.5,599.1C163.5,599.1 169.4,605.3 172.7,606.9C177.1,609.0 188.7,610.0 188.7,610.0C188.7,610.0 185.5,632.2 185.0,641.8C183.1,676.9 186.0,758.8 186.0,758.8L174.8,758.8C174.8,758.8 168.2,727.3 166.6,713.6C165.2,702.0 164.5,674.6 164.5,674.6L172.7,672.6C172.7,672.6 173.1,664.0 172.7,660.3C171.9,653.4 168.9,644.5 167.6,637.7C165.8,628.5 162.7,616.3 162.5,606.9C162.5,604.5 163.5,599.1 163.5,599.1Z"/>
<path d="M188.7,611.0L193.2,616.2L203.5,617.2C203.5,617.2 204.1,656.0 204.5,672.6C205.0,698.5 206.6,758.8 206.6,758.8L187.1,758.8C187.1,758.8 185.6,698.5 186.0,672.6C186.3,654.1 188.7,611.0 188.7,611.0Z"/>
<path d="M205.6,604.5L225.0,610.0C225.0,610.0 220.3,639.4 219.9,652.1C219.0,682.9 226.1,754.7 226.1,754.7L213.8,759.8C213.8,759.8 208.2,713.2 206.6,693.1C205.6,680.8 204.7,664.4 204.5,652.1C204.3,637.8 205.6,604.5 205.6,604.5Z"/>
<path d="M225.0,605.3L251.7,610.0L252.8,758.8L242.5,758.8C242.5,758.8 246.4,734.4 246.6,723.9C246.9,708.5 244.6,687.9 242.5,672.6C241.6,666.4 238.8,658.4 238.4,652.1C237.6,639.2 241.5,609.0 241.5,609.0L225.0,605.3Z"/>
<path d="M226.1,610.0L240.4,609.0C240.4,609.0 236.0,639.1 236.3,652.1C236.8,673.9 246.6,702.1 246.6,723.9C246.6,734.5 241.5,758.8 241.5,758.8L228.1,758.8C228.1,758.8 225.0,712.8 224.0,693.1C223.2,677.7 221.3,657.2 222.0,641.8C222.4,632.2 226.1,610.0 226.1,610.0Z"/>
<path d="M255.3,616.2L272.7,610.6C272.7,610.6 272.2,639.7 272.7,652.1C273.2,664.4 275.0,680.8 275.8,693.1C277.0,712.8 278.9,758.8 278.9,758.8L260.4,758.8C260.4,758.8 259.6,712.8 258.3,693.1C257.5,680.8 254.6,664.5 254.2,652.1C253.8,641.3 255.3,616.2 255.3,616.2Z"/>
<path d="M277.8,610.0C277.8,610.0 285.1,611.6 288.1,611.0C289.3,610.8 291.8,609.0 291.8,609.0C291.8,609.0 292.4,639.2 292.6,652.1C292.9,670.5 292.9,695.2 293.2,713.6C293.4,727.2 294.3,758.8 294.3,758.8L279.9,758.8C279.9,758.8 274.0,734.3 275.8,723.9C276.4,720.5 280.4,717.0 280.9,713.6C282.0,706.2 277.7,696.4 276.8,689.0C275.4,678.0 273.6,663.2 273.7,652.1C273.8,639.4 277.8,610.0 277.8,610.0Z"/>
<path d="M293.8,604.5L302.5,609.0C302.5,609.0 304.2,639.2 303.5,652.1C303.0,661.4 299.8,673.5 299.4,682.8C299.1,689.6 299.0,698.8 300.4,705.4C301.5,710.6 305.7,716.6 306.6,721.8C307.5,726.7 307.0,733.4 306.6,738.3C306.1,744.5 303.5,758.8 303.5,758.8L294.3,758.8C294.3,758.8 292.6,698.5 292.6,672.6C292.6,652.2 293.8,604.5 293.8,604.5Z"/>
<path d="M302.5,611.0L317.9,605.3C317.9,605.3 323.7,632.2 324.0,643.9C324.2,652.6 321.1,663.9 320.9,672.6C320.6,684.9 322.5,701.3 323.0,713.6C323.5,727.2 324.0,758.8 324.0,758.8L304.5,758.8C304.5,758.8 310.4,741.7 310.7,734.1C310.8,730.4 309.7,725.4 308.6,721.8C307.1,716.7 302.7,710.6 301.4,705.4C299.7,698.8 299.2,689.6 299.4,682.8C299.6,673.5 303.0,661.4 303.5,652.1C304.2,639.8 302.5,611.0 302.5,611.0Z"/>
<path d="M319.9,598.7C319.9,598.7 324.4,604.4 327.1,605.9C330.4,607.8 339.4,609.0 339.4,609.0C339.4,609.0 345.5,628.9 346.6,637.7C347.1,641.4 346.6,650.0 346.6,650.0L338.4,652.1C338.4,652.1 337.2,657.9 337.8,660.3C338.9,664.5 345.6,672.6 345.6,672.6C345.6,672.6 345.0,682.9 343.5,687.0C342.3,690.4 338.3,693.8 337.3,697.2C335.6,703.1 336.7,711.6 337.3,717.7C338.6,730.2 345.6,758.8 345.6,758.8L331.2,758.8C331.2,758.8 325.4,727.3 324.0,713.6C322.8,701.6 322.0,673.6 322.0,673.6L328.1,672.6C328.1,672.6 329.4,664.0 329.1,660.3C328.6,654.6 325.0,647.5 324.0,641.8C321.7,629.0 319.9,598.7 319.9,598.7Z"/>
<path d="M339.8,608.6L353.8,611.0C353.8,611.0 351.6,668.5 352.7,693.1C353.2,705.4 355.7,721.8 356.8,734.1C357.5,741.5 358.9,758.8 358.9,758.8L346.6,758.8C346.6,758.8 339.8,730.2 338.4,717.7C337.7,711.6 336.1,703.1 337.8,697.2C338.8,693.7 343.2,690.4 344.5,687.0C346.1,682.9 346.6,672.6 346.6,672.6C346.6,672.6 340.4,664.5 339.4,660.3C338.9,658.2 339.8,653.1 339.8,653.1L347.6,651.0C347.6,651.0 347.8,641.7 347.2,637.7C345.9,628.8 339.8,608.6 339.8,608.6Z"/>
<path d="M353.8,621.3L368.1,604.9L370.2,606.9C370.2,606.9 366.8,631.4 368.1,641.8C368.7,646.9 373.0,653.0 373.3,658.2C373.7,665.7 368.4,675.3 368.1,682.8C367.7,692.1 370.8,704.4 372.2,713.6C374.3,727.2 380.4,758.8 380.4,758.8L368.1,758.8C368.1,758.8 359.9,741.9 357.9,734.1C354.8,722.1 354.0,705.5 353.4,693.1C352.3,671.6 353.8,621.3 353.8,621.3Z"/>
<path d="M370.6,607.9L380.4,610.0C380.4,610.0 379.2,636.8 381.5,648.0C382.7,653.8 386.7,660.8 388.6,666.4C389.6,669.5 391.5,673.5 391.7,676.7C391.9,680.4 389.6,685.3 389.7,689.0C389.9,696.5 393.9,706.1 394.8,713.6C396.5,727.1 396.8,758.8 396.8,758.8L381.5,758.8C381.5,758.8 375.4,727.2 373.3,713.6C371.9,704.4 368.7,692.1 369.2,682.8C369.6,675.5 375.2,666.5 374.9,659.2C374.7,653.7 370.0,647.2 369.2,641.8C367.8,631.7 370.6,607.9 370.6,607.9Z"/>
<path d="M379.4,599.7L385.5,606.9L389.6,605.9L390.7,612.0L400.9,613.1C400.9,613.1 403.7,623.0 404.0,627.4C404.4,632.3 404.3,639.1 403.0,643.9C402.5,645.9 400.2,648.0 399.9,650.0C398.8,656.7 402.7,665.8 403.0,672.6C403.3,680.0 401.5,689.8 401.9,697.2C403.0,715.9 412.2,758.8 412.2,758.8L397.8,758.8C397.8,758.8 397.5,727.1 395.8,713.6C394.9,706.1 390.9,696.5 390.7,689.0C390.6,685.3 392.9,680.4 392.7,676.7C392.5,673.5 390.7,669.4 389.6,666.4C387.7,661.4 383.6,655.2 382.4,650.0C379.7,638.6 381.2,622.7 380.4,611.0C380.2,607.6 379.4,599.7 379.4,599.7Z"/>
<path d="M402.9,603.8L413.2,611.0L426.6,610.0C426.6,610.0 427.6,613.5 427.6,615.1C427.5,625.2 421.8,638.0 420.4,648.0C419.8,652.3 419.4,662.3 419.4,662.3L428.6,661.3L429.6,758.8L414.3,758.8C414.3,758.8 402.1,717.4 403.0,699.3C403.0,698.3 403.9,696.2 403.9,696.2L412.6,698.2C412.6,698.2 411.8,694.6 411.2,693.1C409.1,688.1 403.3,682.9 401.9,677.7C401.6,676.5 401.9,673.6 401.9,673.6L413.2,677.7C413.2,677.7 411.8,674.1 411.2,672.6C408.3,665.7 401.8,657.4 400.9,650.0C400.7,648.5 401.9,644.9 401.9,644.9L414.3,651.0C414.3,651.0 412.8,647.5 412.2,645.9C410.2,640.4 407.3,633.1 406.0,627.4C404.4,620.4 402.9,603.8 402.9,603.8Z"/>
<path d="M423.0,604.5L428.1,606.9C428.1,606.9 437.4,636.9 440.4,650.0C442.0,656.7 444.1,665.7 444.5,672.6C445.1,684.9 442.0,701.3 441.4,713.6C440.7,727.1 440.4,758.8 440.4,758.8L431.2,758.8C431.2,758.8 429.9,712.8 429.7,693.1C429.6,683.3 429.7,660.3 429.7,660.3L425.0,658.2C425.0,658.2 423.8,651.1 424.0,648.0C424.4,641.1 428.8,632.3 429.1,625.4C429.3,621.0 428.6,615.1 427.1,611.0C426.3,608.8 423.0,604.5 423.0,604.5Z"/>
<path d="M427.1,606.9L452.7,611.0C452.7,611.0 446.1,639.6 446.6,652.1C447.1,666.0 456.0,683.3 456.8,697.2C457.4,708.3 455.3,723.3 452.7,734.1C451.5,739.2 447.9,745.4 446.6,750.5C446.0,752.9 445.5,758.8 445.5,758.8L440.8,758.8C440.8,758.8 441.7,727.1 442.5,713.6C443.2,701.3 446.4,684.9 445.5,672.6C445.0,665.7 442.2,656.7 440.4,650.0C436.9,636.9 427.1,606.9 427.1,606.9Z"/>
<path d="M453.7,611.0C453.7,611.0 459.5,612.4 462.0,612.0C464.0,611.7 468.1,609.0 468.1,609.0C468.1,609.0 469.1,624.7 469.1,631.5C469.0,646.9 466.2,667.4 466.1,682.8C466.0,690.2 465.0,700.4 467.1,707.5C468.5,712.3 473.4,717.2 475.3,721.8C476.7,725.3 478.5,730.3 478.4,734.1C478.3,741.8 471.2,758.8 471.2,758.8L446.6,758.8C446.6,758.8 447.0,752.9 447.6,750.5C448.8,745.4 452.5,739.2 453.7,734.1C456.3,723.3 458.4,708.3 457.8,697.2C457.0,683.3 448.1,666.0 447.6,652.1C447.1,639.6 453.7,611.0 453.7,611.0Z"/>
<path d="M469.1,609.0C469.1,609.0 473.4,607.0 475.3,606.5C478.6,605.7 486.6,605.3 486.6,605.3C486.6,605.3 483.5,636.9 486.6,650.0C487.4,653.4 491.2,656.9 491.7,660.3C492.3,664.0 490.9,669.0 489.7,672.6C488.6,675.9 485.2,679.4 484.5,682.8C483.2,688.9 484.8,697.3 485.6,703.4C486.8,712.7 490.6,724.8 491.7,734.1C492.6,741.5 492.7,758.8 492.7,758.8L472.2,758.8C472.2,758.8 479.3,741.8 479.4,734.1C479.5,730.3 477.7,725.3 476.3,721.8C474.4,717.2 469.5,712.3 468.1,707.5C466.0,700.4 467.0,690.2 467.1,682.8C467.3,667.4 470.1,646.9 470.2,631.5C470.2,624.7 469.1,609.0 469.1,609.0Z"/>
<path d="M487.6,609.0C487.6,609.0 494.1,610.5 496.8,610.0C499.9,609.4 506.1,605.3 506.1,605.3C506.1,605.3 505.7,619.6 504.0,625.4C503.4,627.4 501.4,629.5 500.9,631.5C499.5,636.9 499.2,644.5 499.9,650.0C500.7,655.8 504.5,662.9 506.1,668.5C508.2,675.8 511.2,685.6 512.2,693.1C514.8,712.6 513.3,758.8 513.3,758.8L498.9,758.8C498.9,758.8 494.4,741.6 492.7,734.1C490.6,724.9 487.7,712.7 486.6,703.4C485.8,697.3 484.3,688.9 485.6,682.8C486.3,679.5 489.6,675.9 490.7,672.6C491.8,669.0 493.3,664.0 492.7,660.3C492.2,656.9 488.4,653.4 487.6,650.0C484.8,638.0 487.6,609.0 487.6,609.0Z"/>
<path d="M506.1,609.0L518.4,611.0C518.4,611.0 518.0,668.5 518.4,693.1C518.7,712.8 520.4,758.8 520.4,758.8L513.3,758.8C513.3,758.8 515.1,712.7 512.6,693.1C511.7,686.2 507.3,677.5 507.1,670.5C507.0,664.9 509.8,657.7 510.6,652.1C510.9,650.3 511.4,647.8 511.2,645.9C510.7,639.6 506.5,631.7 505.7,625.4C505.1,620.5 506.1,609.0 506.1,609.0Z"/>
<path d="M519.4,611.0C519.4,611.0 525.5,609.0 528.2,609.0C530.7,609.0 536.4,611.0 536.4,611.0C536.4,611.0 535.3,639.8 535.4,652.1C535.5,670.6 537.3,695.1 537.4,713.6C537.5,727.2 536.4,758.8 536.4,758.8L521.5,758.8C521.5,758.8 519.7,712.8 519.4,693.1C519.0,668.5 519.4,611.0 519.4,611.0Z"/>
<path d="M537.4,613.1L543.6,609.4L555.9,611.0C555.9,611.0 557.1,616.0 556.9,618.2C556.3,625.0 550.4,633.0 549.8,639.8C549.0,648.5 552.5,659.9 553.9,668.5C555.8,679.6 560.7,694.1 561.0,705.4C561.2,714.1 557.3,725.4 556.9,734.1C556.6,740.3 558.0,754.7 558.0,754.7L544.6,758.8C544.6,758.8 541.5,734.4 540.5,723.9C539.3,711.6 538.0,695.1 537.4,682.8C536.6,667.4 535.6,646.9 536.0,631.5C536.1,626.0 537.4,613.1 537.4,613.1Z"/>
<path d="M561.0,616.2C565.0,614.2 575.0,611.0 575.0,611.0C575.0,611.0 574.4,639.8 574.4,652.1C574.4,667.5 574.7,688.0 575.4,703.4C576.2,720.0 579.5,758.8 579.5,758.8L563.1,758.8C563.1,758.8 558.2,741.7 558.0,734.1C557.7,725.4 562.3,714.1 562.1,705.4C561.8,694.1 556.8,679.6 554.9,668.5C553.5,659.9 550.0,648.5 550.8,639.8C551.4,633.0 553.9,623.6 558.0,618.2C558.7,617.3 560.0,616.7 561.0,616.2Z"/>
<path d="M578.5,604.5L591.8,611.0C591.8,611.0 586.2,639.6 585.7,652.1C585.2,664.4 587.8,680.8 588.7,693.1C589.6,705.4 590.8,721.8 591.8,734.1C592.4,741.5 593.9,758.8 593.9,758.8L580.5,758.8C580.5,758.8 577.6,720.0 577.0,703.4C576.4,688.0 576.4,667.5 576.4,652.1C576.4,639.8 575.5,623.2 577.0,611.0C577.2,609.0 578.5,604.5 578.5,604.5Z"/>
<path d="M586.7,604.5L603.1,609.0C603.1,609.0 602.7,632.0 602.1,641.8C601.5,651.1 599.6,663.3 599.0,672.6C598.4,682.4 595.9,695.8 598.0,705.4C599.2,710.8 605.1,716.4 606.2,721.8C608.4,732.7 604.1,758.8 604.1,758.8L594.9,758.8C594.9,758.8 593.4,741.5 592.8,734.1C591.8,721.8 590.7,705.4 589.8,693.1C588.9,680.8 586.3,664.4 586.7,652.1C587.1,639.6 592.8,611.0 592.8,611.0L586.7,604.5Z"/>
<path d="M604.1,609.0L620.6,605.3C620.6,605.3 623.1,607.7 623.6,609.0C627.0,618.2 625.0,632.0 624.7,641.8C624.4,651.1 622.0,663.3 621.6,672.6C621.1,684.9 621.7,701.3 622.6,713.6C623.2,721.0 624.2,731.0 625.7,738.3C627.0,744.6 631.8,758.8 631.8,758.8L606.2,758.8C606.2,758.8 609.7,744.5 610.3,738.3C610.7,734.6 611.5,729.4 610.3,725.9C609.8,724.4 608.0,723.1 607.2,721.8C604.3,717.1 600.2,710.8 599.0,705.4C596.9,695.8 599.4,682.4 600.0,672.6C600.6,663.3 602.5,651.1 603.1,641.8C603.7,632.0 604.1,609.0 604.1,609.0Z"/>
<path d="M632.5,605.3L655.4,610.0L655.4,758.8L639.0,758.8C639.0,758.8 636.6,741.5 635.9,734.1C634.7,721.8 632.1,705.4 632.9,693.1C633.4,685.6 638.0,668.5 638.0,668.5C638.0,668.5 631.6,661.7 629.8,658.2C628.7,655.9 627.7,650.0 627.7,650.0C627.7,650.0 633.2,641.6 634.9,637.7C637.0,633.0 640.0,621.3 640.0,621.3L632.5,605.3Z" stroke="none"/>
<path d="M625.7,611.0L631.8,605.3L639.0,621.3C639.0,621.3 636.0,633.0 633.9,637.7C632.2,641.6 626.7,650.0 626.7,650.0C626.7,650.0 627.7,655.9 628.8,658.2C630.6,661.7 637.0,668.5 637.0,668.5C637.0,668.5 632.3,685.6 631.8,693.1C631.0,705.4 633.7,721.8 634.9,734.1C635.6,741.5 638.0,758.8 638.0,758.8L632.9,758.8C632.9,758.8 628.0,744.6 626.7,738.3C625.1,731.0 624.2,721.0 623.6,713.6C622.7,701.3 622.1,684.9 622.6,672.6C623.0,663.3 625.2,651.1 625.7,641.8C626.2,632.6 625.7,611.0 625.7,611.0Z"/>
</g>
<g stroke="#0a1214" stroke-width="1.45" stroke-linejoin="round" fill="#909b9e">
<path d="M112.2,611.0L131.3,603.2L131.3,616.2L125.5,619.2C125.5,619.2 126.4,656.5 126.5,672.5C126.6,698.7 125.5,759.8 125.5,759.8L112.2,759.8L112.2,611.0Z"/>
<path d="M124.5,616.8L134.8,621.7L148.1,611.0C148.1,611.0 148.7,639.8 149.1,652.1C150.1,682.9 153.2,754.7 153.2,754.7L135.8,759.8C135.8,759.8 129.4,706.0 127.6,682.8C126.1,663.0 124.5,616.8 124.5,616.8Z" stroke-dasharray="8 1.3"/>
<path d="M153.2,611.0L160.4,604.5C160.4,604.5 163.8,608.8 164.5,611.0C167.4,619.8 166.6,632.5 166.6,641.8C166.6,651.1 164.8,663.3 164.5,672.6C163.8,698.8 165.5,759.8 165.5,759.8L150.1,759.8C150.1,759.8 150.7,705.9 151.2,682.8C151.7,661.3 153.2,611.0 153.2,611.0Z"/>
<path d="M163.5,599.1C163.5,599.1 169.4,605.3 172.7,606.9C177.1,609.0 188.7,610.0 188.7,610.0C188.7,610.0 185.5,632.2 185.0,641.8C183.1,676.9 186.0,758.8 186.0,758.8L174.8,758.8C174.8,758.8 168.2,727.3 166.6,713.6C165.2,702.0 164.5,674.6 164.5,674.6L172.7,672.6C172.7,672.6 173.1,664.0 172.7,660.3C171.9,653.4 168.9,644.5 167.6,637.7C165.8,628.5 162.7,616.3 162.5,606.9C162.5,604.5 163.5,599.1 163.5,599.1Z" stroke-dasharray="8 1.3"/>
<path d="M188.7,611.0L193.2,616.2L203.5,617.2C203.5,617.2 204.1,656.0 204.5,672.6C205.0,698.5 206.6,758.8 206.6,758.8L187.1,758.8C187.1,758.8 185.6,698.5 186.0,672.6C186.3,654.1 188.7,611.0 188.7,611.0Z"/>
<path d="M205.6,604.5L225.0,610.0C225.0,610.0 220.3,639.4 219.9,652.1C219.0,682.9 226.1,754.7 226.1,754.7L213.8,759.8C213.8,759.8 208.2,713.2 206.6,693.1C205.6,680.8 204.7,664.4 204.5,652.1C204.3,637.8 205.6,604.5 205.6,604.5Z" stroke-dasharray="8 1.3"/>
<path d="M225.0,605.3L251.7,610.0L252.8,758.8L242.5,758.8C242.5,758.8 246.4,734.4 246.6,723.9C246.9,708.5 244.6,687.9 242.5,672.6C241.6,666.4 238.8,658.4 238.4,652.1C237.6,639.2 241.5,609.0 241.5,609.0L225.0,605.3Z" stroke-dasharray="8 1.3"/>
<path d="M226.1,610.0L240.4,609.0C240.4,609.0 236.0,639.1 236.3,652.1C236.8,673.9 246.6,702.1 246.6,723.9C246.6,734.5 241.5,758.8 241.5,758.8L228.1,758.8C228.1,758.8 225.0,712.8 224.0,693.1C223.2,677.7 221.3,657.2 222.0,641.8C222.4,632.2 226.1,610.0 226.1,610.0Z" stroke-dasharray="8 1.3"/>
<path d="M255.3,616.2L272.7,610.6C272.7,610.6 272.2,639.7 272.7,652.1C273.2,664.4 275.0,680.8 275.8,693.1C277.0,712.8 278.9,758.8 278.9,758.8L260.4,758.8C260.4,758.8 259.6,712.8 258.3,693.1C257.5,680.8 254.6,664.5 254.2,652.1C253.8,641.3 255.3,616.2 255.3,616.2Z"/>
<path d="M277.8,610.0C277.8,610.0 285.1,611.6 288.1,611.0C289.3,610.8 291.8,609.0 291.8,609.0C291.8,609.0 292.4,639.2 292.6,652.1C292.9,670.5 292.9,695.2 293.2,713.6C293.4,727.2 294.3,758.8 294.3,758.8L279.9,758.8C279.9,758.8 274.0,734.3 275.8,723.9C276.4,720.5 280.4,717.0 280.9,713.6C282.0,706.2 277.7,696.4 276.8,689.0C275.4,678.0 273.6,663.2 273.7,652.1C273.8,639.4 277.8,610.0 277.8,610.0Z" stroke-dasharray="8 1.3"/>
<path d="M293.8,604.5L302.5,609.0C302.5,609.0 304.2,639.2 303.5,652.1C303.0,661.4 299.8,673.5 299.4,682.8C299.1,689.6 299.0,698.8 300.4,705.4C301.5,710.6 305.7,716.6 306.6,721.8C307.5,726.7 307.0,733.4 306.6,738.3C306.1,744.5 303.5,758.8 303.5,758.8L294.3,758.8C294.3,758.8 292.6,698.5 292.6,672.6C292.6,652.2 293.8,604.5 293.8,604.5Z"/>
<path d="M302.5,611.0L317.9,605.3C317.9,605.3 323.7,632.2 324.0,643.9C324.2,652.6 321.1,663.9 320.9,672.6C320.6,684.9 322.5,701.3 323.0,713.6C323.5,727.2 324.0,758.8 324.0,758.8L304.5,758.8C304.5,758.8 310.4,741.7 310.7,734.1C310.8,730.4 309.7,725.4 308.6,721.8C307.1,716.7 302.7,710.6 301.4,705.4C299.7,698.8 299.2,689.6 299.4,682.8C299.6,673.5 303.0,661.4 303.5,652.1C304.2,639.8 302.5,611.0 302.5,611.0Z" stroke-dasharray="8 1.3"/>
<path d="M319.9,598.7C319.9,598.7 324.4,604.4 327.1,605.9C330.4,607.8 339.4,609.0 339.4,609.0C339.4,609.0 345.5,628.9 346.6,637.7C347.1,641.4 346.6,650.0 346.6,650.0L338.4,652.1C338.4,652.1 337.2,657.9 337.8,660.3C338.9,664.5 345.6,672.6 345.6,672.6C345.6,672.6 345.0,682.9 343.5,687.0C342.3,690.4 338.3,693.8 337.3,697.2C335.6,703.1 336.7,711.6 337.3,717.7C338.6,730.2 345.6,758.8 345.6,758.8L331.2,758.8C331.2,758.8 325.4,727.3 324.0,713.6C322.8,701.6 322.0,673.6 322.0,673.6L328.1,672.6C328.1,672.6 329.4,664.0 329.1,660.3C328.6,654.6 325.0,647.5 324.0,641.8C321.7,629.0 319.9,598.7 319.9,598.7Z" stroke-dasharray="8 1.3"/>
<path d="M339.8,608.6L353.8,611.0C353.8,611.0 351.6,668.5 352.7,693.1C353.2,705.4 355.7,721.8 356.8,734.1C357.5,741.5 358.9,758.8 358.9,758.8L346.6,758.8C346.6,758.8 339.8,730.2 338.4,717.7C337.7,711.6 336.1,703.1 337.8,697.2C338.8,693.7 343.2,690.4 344.5,687.0C346.1,682.9 346.6,672.6 346.6,672.6C346.6,672.6 340.4,664.5 339.4,660.3C338.9,658.2 339.8,653.1 339.8,653.1L347.6,651.0C347.6,651.0 347.8,641.7 347.2,637.7C345.9,628.8 339.8,608.6 339.8,608.6Z" stroke-dasharray="8 1.3"/>
<path d="M353.8,621.3L368.1,604.9L370.2,606.9C370.2,606.9 366.8,631.4 368.1,641.8C368.7,646.9 373.0,653.0 373.3,658.2C373.7,665.7 368.4,675.3 368.1,682.8C367.7,692.1 370.8,704.4 372.2,713.6C374.3,727.2 380.4,758.8 380.4,758.8L368.1,758.8C368.1,758.8 359.9,741.9 357.9,734.1C354.8,722.1 354.0,705.5 353.4,693.1C352.3,671.6 353.8,621.3 353.8,621.3Z"/>
<path d="M370.6,607.9L380.4,610.0C380.4,610.0 379.2,636.8 381.5,648.0C382.7,653.8 386.7,660.8 388.6,666.4C389.6,669.5 391.5,673.5 391.7,676.7C391.9,680.4 389.6,685.3 389.7,689.0C389.9,696.5 393.9,706.1 394.8,713.6C396.5,727.1 396.8,758.8 396.8,758.8L381.5,758.8C381.5,758.8 375.4,727.2 373.3,713.6C371.9,704.4 368.7,692.1 369.2,682.8C369.6,675.5 375.2,666.5 374.9,659.2C374.7,653.7 370.0,647.2 369.2,641.8C367.8,631.7 370.6,607.9 370.6,607.9Z" stroke-dasharray="8 1.3"/>
<path d="M379.4,599.7L385.5,606.9L389.6,605.9L390.7,612.0L400.9,613.1C400.9,613.1 403.7,623.0 404.0,627.4C404.4,632.3 404.3,639.1 403.0,643.9C402.5,645.9 400.2,648.0 399.9,650.0C398.8,656.7 402.7,665.8 403.0,672.6C403.3,680.0 401.5,689.8 401.9,697.2C403.0,715.9 412.2,758.8 412.2,758.8L397.8,758.8C397.8,758.8 397.5,727.1 395.8,713.6C394.9,706.1 390.9,696.5 390.7,689.0C390.6,685.3 392.9,680.4 392.7,676.7C392.5,673.5 390.7,669.4 389.6,666.4C387.7,661.4 383.6,655.2 382.4,650.0C379.7,638.6 381.2,622.7 380.4,611.0C380.2,607.6 379.4,599.7 379.4,599.7Z" stroke-dasharray="8 1.3"/>
<path d="M402.9,603.8L413.2,611.0L426.6,610.0C426.6,610.0 427.6,613.5 427.6,615.1C427.5,625.2 421.8,638.0 420.4,648.0C419.8,652.3 419.4,662.3 419.4,662.3L428.6,661.3L429.6,758.8L414.3,758.8C414.3,758.8 402.1,717.4 403.0,699.3C403.0,698.3 403.9,696.2 403.9,696.2L412.6,698.2C412.6,698.2 411.8,694.6 411.2,693.1C409.1,688.1 403.3,682.9 401.9,677.7C401.6,676.5 401.9,673.6 401.9,673.6L413.2,677.7C413.2,677.7 411.8,674.1 411.2,672.6C408.3,665.7 401.8,657.4 400.9,650.0C400.7,648.5 401.9,644.9 401.9,644.9L414.3,651.0C414.3,651.0 412.8,647.5 412.2,645.9C410.2,640.4 407.3,633.1 406.0,627.4C404.4,620.4 402.9,603.8 402.9,603.8Z" stroke-dasharray="8 1.3"/>
<path d="M423.0,604.5L428.1,606.9C428.1,606.9 437.4,636.9 440.4,650.0C442.0,656.7 444.1,665.7 444.5,672.6C445.1,684.9 442.0,701.3 441.4,713.6C440.7,727.1 440.4,758.8 440.4,758.8L431.2,758.8C431.2,758.8 429.9,712.8 429.7,693.1C429.6,683.3 429.7,660.3 429.7,660.3L425.0,658.2C425.0,658.2 423.8,651.1 424.0,648.0C424.4,641.1 428.8,632.3 429.1,625.4C429.3,621.0 428.6,615.1 427.1,611.0C426.3,608.8 423.0,604.5 423.0,604.5Z" stroke-dasharray="8 1.3"/>
<path d="M427.1,606.9L452.7,611.0C452.7,611.0 446.1,639.6 446.6,652.1C447.1,666.0 456.0,683.3 456.8,697.2C457.4,708.3 455.3,723.3 452.7,734.1C451.5,739.2 447.9,745.4 446.6,750.5C446.0,752.9 445.5,758.8 445.5,758.8L440.8,758.8C440.8,758.8 441.7,727.1 442.5,713.6C443.2,701.3 446.4,684.9 445.5,672.6C445.0,665.7 442.2,656.7 440.4,650.0C436.9,636.9 427.1,606.9 427.1,606.9Z" stroke-dasharray="8 1.3"/>
<path d="M453.7,611.0C453.7,611.0 459.5,612.4 462.0,612.0C464.0,611.7 468.1,609.0 468.1,609.0C468.1,609.0 469.1,624.7 469.1,631.5C469.0,646.9 466.2,667.4 466.1,682.8C466.0,690.2 465.0,700.4 467.1,707.5C468.5,712.3 473.4,717.2 475.3,721.8C476.7,725.3 478.5,730.3 478.4,734.1C478.3,741.8 471.2,758.8 471.2,758.8L446.6,758.8C446.6,758.8 447.0,752.9 447.6,750.5C448.8,745.4 452.5,739.2 453.7,734.1C456.3,723.3 458.4,708.3 457.8,697.2C457.0,683.3 448.1,666.0 447.6,652.1C447.1,639.6 453.7,611.0 453.7,611.0Z" stroke-dasharray="8 1.3"/>
<path d="M469.1,609.0C469.1,609.0 473.4,607.0 475.3,606.5C478.6,605.7 486.6,605.3 486.6,605.3C486.6,605.3 483.5,636.9 486.6,650.0C487.4,653.4 491.2,656.9 491.7,660.3C492.3,664.0 490.9,669.0 489.7,672.6C488.6,675.9 485.2,679.4 484.5,682.8C483.2,688.9 484.8,697.3 485.6,703.4C486.8,712.7 490.6,724.8 491.7,734.1C492.6,741.5 492.7,758.8 492.7,758.8L472.2,758.8C472.2,758.8 479.3,741.8 479.4,734.1C479.5,730.3 477.7,725.3 476.3,721.8C474.4,717.2 469.5,712.3 468.1,707.5C466.0,700.4 467.0,690.2 467.1,682.8C467.3,667.4 470.1,646.9 470.2,631.5C470.2,624.7 469.1,609.0 469.1,609.0Z" stroke-dasharray="8 1.3"/>
<path d="M487.6,609.0C487.6,609.0 494.1,610.5 496.8,610.0C499.9,609.4 506.1,605.3 506.1,605.3C506.1,605.3 505.7,619.6 504.0,625.4C503.4,627.4 501.4,629.5 500.9,631.5C499.5,636.9 499.2,644.5 499.9,650.0C500.7,655.8 504.5,662.9 506.1,668.5C508.2,675.8 511.2,685.6 512.2,693.1C514.8,712.6 513.3,758.8 513.3,758.8L498.9,758.8C498.9,758.8 494.4,741.6 492.7,734.1C490.6,724.9 487.7,712.7 486.6,703.4C485.8,697.3 484.3,688.9 485.6,682.8C486.3,679.5 489.6,675.9 490.7,672.6C491.8,669.0 493.3,664.0 492.7,660.3C492.2,656.9 488.4,653.4 487.6,650.0C484.8,638.0 487.6,609.0 487.6,609.0Z" stroke-dasharray="8 1.3"/>
<path d="M506.1,609.0L518.4,611.0C518.4,611.0 518.0,668.5 518.4,693.1C518.7,712.8 520.4,758.8 520.4,758.8L513.3,758.8C513.3,758.8 515.1,712.7 512.6,693.1C511.7,686.2 507.3,677.5 507.1,670.5C507.0,664.9 509.8,657.7 510.6,652.1C510.9,650.3 511.4,647.8 511.2,645.9C510.7,639.6 506.5,631.7 505.7,625.4C505.1,620.5 506.1,609.0 506.1,609.0Z" stroke-dasharray="8 1.3"/>
<path d="M519.4,611.0C519.4,611.0 525.5,609.0 528.2,609.0C530.7,609.0 536.4,611.0 536.4,611.0C536.4,611.0 535.3,639.8 535.4,652.1C535.5,670.6 537.3,695.1 537.4,713.6C537.5,727.2 536.4,758.8 536.4,758.8L521.5,758.8C521.5,758.8 519.7,712.8 519.4,693.1C519.0,668.5 519.4,611.0 519.4,611.0Z"/>
<path d="M537.4,613.1L543.6,609.4L555.9,611.0C555.9,611.0 557.1,616.0 556.9,618.2C556.3,625.0 550.4,633.0 549.8,639.8C549.0,648.5 552.5,659.9 553.9,668.5C555.8,679.6 560.7,694.1 561.0,705.4C561.2,714.1 557.3,725.4 556.9,734.1C556.6,740.3 558.0,754.7 558.0,754.7L544.6,758.8C544.6,758.8 541.5,734.4 540.5,723.9C539.3,711.6 538.0,695.1 537.4,682.8C536.6,667.4 535.6,646.9 536.0,631.5C536.1,626.0 537.4,613.1 537.4,613.1Z" stroke-dasharray="8 1.3"/>
<path d="M561.0,616.2C565.0,614.2 575.0,611.0 575.0,611.0C575.0,611.0 574.4,639.8 574.4,652.1C574.4,667.5 574.7,688.0 575.4,703.4C576.2,720.0 579.5,758.8 579.5,758.8L563.1,758.8C563.1,758.8 558.2,741.7 558.0,734.1C557.7,725.4 562.3,714.1 562.1,705.4C561.8,694.1 556.8,679.6 554.9,668.5C553.5,659.9 550.0,648.5 550.8,639.8C551.4,633.0 553.9,623.6 558.0,618.2C558.7,617.3 560.0,616.7 561.0,616.2Z" stroke-dasharray="8 1.3"/>
<path d="M578.5,604.5L591.8,611.0C591.8,611.0 586.2,639.6 585.7,652.1C585.2,664.4 587.8,680.8 588.7,693.1C589.6,705.4 590.8,721.8 591.8,734.1C592.4,741.5 593.9,758.8 593.9,758.8L580.5,758.8C580.5,758.8 577.6,720.0 577.0,703.4C576.4,688.0 576.4,667.5 576.4,652.1C576.4,639.8 575.5,623.2 577.0,611.0C577.2,609.0 578.5,604.5 578.5,604.5Z"/>
<path d="M586.7,604.5L603.1,609.0C603.1,609.0 602.7,632.0 602.1,641.8C601.5,651.1 599.6,663.3 599.0,672.6C598.4,682.4 595.9,695.8 598.0,705.4C599.2,710.8 605.1,716.4 606.2,721.8C608.4,732.7 604.1,758.8 604.1,758.8L594.9,758.8C594.9,758.8 593.4,741.5 592.8,734.1C591.8,721.8 590.7,705.4 589.8,693.1C588.9,680.8 586.3,664.4 586.7,652.1C587.1,639.6 592.8,611.0 592.8,611.0L586.7,604.5Z" stroke-dasharray="8 1.3"/>
<path d="M604.1,609.0L620.6,605.3C620.6,605.3 623.1,607.7 623.6,609.0C627.0,618.2 625.0,632.0 624.7,641.8C624.4,651.1 622.0,663.3 621.6,672.6C621.1,684.9 621.7,701.3 622.6,713.6C623.2,721.0 624.2,731.0 625.7,738.3C627.0,744.6 631.8,758.8 631.8,758.8L606.2,758.8C606.2,758.8 609.7,744.5 610.3,738.3C610.7,734.6 611.5,729.4 610.3,725.9C609.8,724.4 608.0,723.1 607.2,721.8C604.3,717.1 600.2,710.8 599.0,705.4C596.9,695.8 599.4,682.4 600.0,672.6C600.6,663.3 602.5,651.1 603.1,641.8C603.7,632.0 604.1,609.0 604.1,609.0Z" stroke-dasharray="8 1.3"/>
<path d="M632.5,605.3L655.4,610.0L655.4,758.8L639.0,758.8C639.0,758.8 636.6,741.5 635.9,734.1C634.7,721.8 632.1,705.4 632.9,693.1C633.4,685.6 638.0,668.5 638.0,668.5C638.0,668.5 631.6,661.7 629.8,658.2C628.7,655.9 627.7,650.0 627.7,650.0C627.7,650.0 633.2,641.6 634.9,637.7C637.0,633.0 640.0,621.3 640.0,621.3L632.5,605.3Z" stroke="none"/>
<path d="M655.4,758.8L639.0,758.8C639.0,758.8 636.6,741.5 635.9,734.1C634.7,721.8 632.1,705.4 632.9,693.1C633.4,685.6 638.0,668.5 638.0,668.5C638.0,668.5 631.6,661.7 629.8,658.2C628.7,655.9 627.7,650.0 627.7,650.0C627.7,650.0 633.2,641.6 634.9,637.7C637.0,633.0 640.0,621.3 640.0,621.3L632.5,605.3L655.4,610.0" fill="none" stroke-dasharray="8 1.3"/>
<path d="M625.7,611.0L631.8,605.3L639.0,621.3C639.0,621.3 636.0,633.0 633.9,637.7C632.2,641.6 626.7,650.0 626.7,650.0C626.7,650.0 627.7,655.9 628.8,658.2C630.6,661.7 637.0,668.5 637.0,668.5C637.0,668.5 632.3,685.6 631.8,693.1C631.0,705.4 633.7,721.8 634.9,734.1C635.6,741.5 638.0,758.8 638.0,758.8L632.9,758.8C632.9,758.8 628.0,744.6 626.7,738.3C625.1,731.0 624.2,721.0 623.6,713.6C622.7,701.3 622.1,684.9 622.6,672.6C623.0,663.3 625.2,651.1 625.7,641.8C626.2,632.6 625.7,611.0 625.7,611.0Z" stroke-dasharray="8 1.3"/>
</g>
<g fill="#fff" stroke="#0a1214" stroke-width="0.9" stroke-linejoin="round">
<path d="M203.5,668.5C203.5,668.5 208.3,700.0 209.7,713.6C211.0,726.5 212.7,756.7 212.7,756.7L207.6,757.7C207.6,757.7 207.4,721.1 206.6,705.4C206.0,694.3 203.5,668.5 203.5,668.5Z"/>
<path d="M219.9,658.2C219.9,658.2 224.0,679.7 225.0,689.0C225.5,693.9 225.7,705.4 225.7,705.4C225.7,705.4 222.7,694.0 222.0,689.0C220.7,679.8 219.9,658.2 219.9,658.2Z"/>
<path d="M236.3,654.1C236.3,654.1 240.9,666.9 241.5,672.6C242.0,677.5 240.4,689.0 240.4,689.0C240.4,689.0 238.0,677.6 237.4,672.6C236.7,667.1 236.3,654.1 236.3,654.1Z"/>
<path d="M148.5,613.1L153.2,611.0L151.2,658.2L148.5,613.1Z"/>
<path d="M273.7,621.3C273.7,621.3 279.0,680.1 278.9,705.4C278.9,710.3 277.8,721.8 277.8,721.8C277.8,721.8 273.6,690.3 272.7,676.7C272.0,666.3 271.8,652.3 272.1,641.8C272.3,635.6 273.7,621.3 273.7,621.3Z"/>
<path d="M304.5,721.8C304.5,721.8 309.1,727.2 309.6,730.0C310.5,734.9 306.6,746.5 306.6,746.5C306.6,746.5 304.4,737.9 304.1,734.1C303.8,730.4 304.5,721.8 304.5,721.8Z"/>
<path d="M343.5,635.6L346.6,650.0L339.8,651.0C339.8,651.0 341.9,644.6 342.5,641.8C342.9,640.0 343.5,635.6 343.5,635.6Z"/>
<path d="M341.0,670.5C341.0,670.5 345.6,674.3 346.0,676.7C346.6,679.9 342.5,687.0 342.5,687.0L341.0,670.5Z"/>
<path d="M372.2,660.3C372.2,660.3 374.7,664.4 374.7,666.4C374.7,668.4 372.2,672.6 372.2,672.6C372.2,672.6 370.7,669.8 370.6,668.5C370.4,666.0 372.2,660.3 372.2,660.3Z"/>
<path d="M388.6,666.4C388.6,666.4 392.3,673.4 392.8,676.7C393.2,679.8 391.7,687.0 391.7,687.0C391.7,687.0 389.1,679.9 388.6,676.7C388.1,673.6 388.6,666.4 388.6,666.4Z"/>
<path d="M322.0,705.4L330.2,756.7L326.1,756.7L322.0,705.4Z"/>
<path d="M359.9,738.3L368.1,757.7L360.9,757.7L359.9,738.3Z"/>
<path d="M433.8,658.2C433.8,658.2 440.2,667.9 441.6,672.6C443.0,677.3 442.6,689.0 442.6,689.0C442.6,689.0 438.7,680.5 437.5,676.7C435.9,671.3 433.8,658.2 433.8,658.2Z"/>
<path d="M474.8,721.8C474.8,721.8 478.1,727.3 478.5,730.0C479.0,733.7 476.5,742.3 476.5,742.3C476.5,742.3 474.7,736.6 474.4,734.1C474.0,730.4 474.8,721.8 474.8,721.8Z"/>
<path d="M625.2,738.3L632.4,758.8L625.2,758.8L625.2,738.3Z"/>
</g>
<rect x="113" y="762.2" width="542.2" height="109.59999999999991" fill="#fff" stroke="#000" stroke-width="4"/>
<line x1="103.8" y1="802.2" x2="121.8" y2="816.8" stroke="#000" stroke-width="3.2"/>
<line x1="103.8" y1="817.4" x2="121.8" y2="832.0" stroke="#000" stroke-width="3.2"/>
<line x1="647.0" y1="802.2" x2="665.0" y2="816.8" stroke="#000" stroke-width="3.2"/>
<line x1="647.0" y1="817.4" x2="665.0" y2="832.0" stroke="#000" stroke-width="3.2"/>
<rect x="798.0" y="215" width="542.2" height="25.5" fill="#50d6f5"/>
<path d="M797.8,203.6C803.1,203.8 820.7,204.5 829.7,204.6C838.7,204.6 843.3,204.3 851.6,204.0C859.9,203.7 869.9,202.8 879.5,202.5C889.1,202.1 899.4,201.9 909.4,202.2C919.4,202.4 929.3,203.4 939.3,203.8C949.3,204.2 959.1,204.7 969.2,204.6C979.3,204.6 990.0,203.7 1000.0,203.5C1010.0,203.3 1019.3,203.5 1029.0,203.4C1038.7,203.4 1048.3,203.6 1058.0,203.3C1067.7,202.9 1077.3,202.0 1087.0,201.4C1096.7,200.8 1106.3,200.1 1116.0,199.9C1125.7,199.8 1135.3,200.1 1145.0,200.7C1154.7,201.2 1164.8,202.4 1174.0,203.2C1183.2,203.9 1190.8,204.8 1200.0,205.2C1209.2,205.5 1219.5,205.5 1229.4,205.2C1239.3,205.0 1249.3,204.1 1259.3,203.4C1269.3,202.8 1279.2,201.7 1289.2,201.3C1299.2,201.0 1310.6,200.9 1319.1,201.2C1327.6,201.6 1336.7,202.9 1340.2,203.2L1340.2,221.5C1333.3,221.7 1310.9,222.7 1299.1,222.9C1287.3,223.1 1279.2,222.8 1269.3,222.7C1259.3,222.6 1251.0,222.3 1239.4,222.3C1227.9,222.4 1210.9,223.0 1200.0,223.1C1189.1,223.3 1183.2,223.3 1174.0,223.2C1164.8,223.1 1154.7,222.6 1145.0,222.7C1135.3,222.7 1125.7,223.1 1116.0,223.5C1106.3,223.9 1096.7,224.6 1087.0,224.8C1077.3,225.0 1067.7,224.8 1058.0,224.6C1048.3,224.3 1038.7,223.5 1029.0,223.3C1019.3,223.1 1010.0,223.2 1000.0,223.5C990.0,223.7 979.3,224.5 969.2,224.6C959.1,224.7 949.3,224.4 939.3,224.1C929.3,223.8 919.4,222.8 909.4,222.6C899.4,222.3 889.1,222.3 879.5,222.4C869.9,222.5 859.9,223.1 851.6,223.2C843.3,223.4 838.7,223.3 829.7,223.1C820.7,222.9 803.1,222.1 797.8,221.9Z" fill="#fdb022"/>
<path d="M797.8,183.2C803.1,182.9 820.7,181.7 829.7,181.5C838.7,181.3 843.3,181.7 851.6,181.9C859.9,182.2 869.9,182.9 879.5,182.9C889.1,182.9 899.4,182.2 909.4,181.8C919.4,181.5 929.3,180.6 939.3,180.7C949.3,180.7 959.1,181.4 969.2,181.9C979.3,182.4 990.0,183.4 1000.0,183.7C1010.0,184.0 1019.3,183.8 1029.0,183.6C1038.7,183.4 1048.3,182.8 1058.0,182.5C1067.7,182.2 1077.3,182.0 1087.0,182.1C1096.7,182.2 1106.3,182.6 1116.0,182.9C1125.7,183.3 1135.3,184.1 1145.0,184.4C1154.7,184.8 1164.8,185.0 1174.0,185.1C1183.2,185.1 1192.4,184.7 1200.0,184.5C1207.6,184.2 1209.5,183.7 1219.4,183.4C1229.3,183.0 1247.7,182.6 1259.3,182.3C1270.9,182.0 1279.2,181.8 1289.2,181.8C1299.2,181.8 1310.6,182.0 1319.1,182.2C1327.6,182.4 1336.7,183.0 1340.2,183.2L1340.2,203.2C1336.7,202.9 1327.6,201.6 1319.1,201.2C1310.6,200.9 1299.2,201.0 1289.2,201.3C1279.2,201.7 1269.3,202.8 1259.3,203.4C1249.3,204.1 1239.3,205.0 1229.4,205.2C1219.5,205.5 1209.2,205.5 1200.0,205.2C1190.8,204.8 1183.2,203.9 1174.0,203.2C1164.8,202.4 1154.7,201.2 1145.0,200.7C1135.3,200.1 1125.7,199.8 1116.0,199.9C1106.3,200.1 1096.7,200.8 1087.0,201.4C1077.3,202.0 1067.7,202.9 1058.0,203.3C1048.3,203.6 1038.7,203.4 1029.0,203.4C1019.3,203.5 1010.0,203.3 1000.0,203.5C990.0,203.7 979.3,204.6 969.2,204.6C959.1,204.7 949.3,204.2 939.3,203.8C929.3,203.4 919.4,202.4 909.4,202.2C899.4,201.9 889.1,202.1 879.5,202.5C869.9,202.8 859.9,203.7 851.6,204.0C843.3,204.3 838.7,204.6 829.7,204.6C820.7,204.5 803.1,203.8 797.8,203.6Z" fill="#3df52f"/>
<path d="M797.8,158.7C803.1,159.0 820.7,160.1 829.7,160.6C838.7,161.1 843.3,161.5 851.6,161.7C859.9,161.8 869.9,161.7 879.5,161.4C889.1,161.2 899.4,160.6 909.4,160.2C919.4,159.9 929.3,159.4 939.3,159.2C949.3,159.0 959.1,159.2 969.2,159.3C979.3,159.5 990.0,159.9 1000.0,160.1C1010.0,160.2 1019.3,160.3 1029.0,160.2C1038.7,160.2 1048.3,160.0 1058.0,159.8C1067.7,159.6 1077.3,159.3 1087.0,159.0C1096.7,158.7 1106.3,158.3 1116.0,158.0C1125.7,157.7 1135.3,157.4 1145.0,157.4C1154.7,157.4 1164.8,157.5 1174.0,157.8C1183.2,158.1 1192.4,158.6 1200.0,159.1C1207.6,159.6 1211.2,160.3 1219.4,160.7C1227.6,161.0 1239.3,161.4 1249.3,161.1C1259.3,160.9 1269.2,159.9 1279.2,159.3C1289.2,158.7 1298.9,157.5 1309.1,157.3C1319.3,157.1 1335.0,158.0 1340.2,158.1L1340.2,183.2C1336.7,183.0 1327.6,182.4 1319.1,182.2C1310.6,182.0 1299.2,181.8 1289.2,181.8C1279.2,181.8 1270.9,182.0 1259.3,182.3C1247.7,182.6 1229.3,183.0 1219.4,183.4C1209.5,183.7 1207.6,184.2 1200.0,184.5C1192.4,184.7 1183.2,185.1 1174.0,185.1C1164.8,185.0 1154.7,184.8 1145.0,184.4C1135.3,184.1 1125.7,183.3 1116.0,182.9C1106.3,182.6 1096.7,182.2 1087.0,182.1C1077.3,182.0 1067.7,182.2 1058.0,182.5C1048.3,182.8 1038.7,183.4 1029.0,183.6C1019.3,183.8 1010.0,184.0 1000.0,183.7C990.0,183.4 979.3,182.4 969.2,181.9C959.1,181.4 949.3,180.7 939.3,180.7C929.3,180.6 919.4,181.5 909.4,181.8C899.4,182.2 889.1,182.9 879.5,182.9C869.9,182.9 859.9,182.2 851.6,181.9C843.3,181.7 838.7,181.3 829.7,181.5C820.7,181.7 803.1,182.9 797.8,183.2Z" fill="#fdb022"/>
<path d="M797.8,137.8C803.1,138.0 820.7,138.5 829.7,138.8C838.7,139.2 843.3,139.8 851.6,140.1C859.9,140.3 869.9,140.5 879.5,140.3C889.1,140.2 899.4,139.7 909.4,139.4C919.4,139.0 929.3,138.5 939.3,138.4C949.3,138.4 959.1,138.8 969.2,139.2C979.3,139.7 990.0,140.9 1000.0,141.4C1010.0,141.9 1019.3,142.5 1029.0,142.5C1038.7,142.5 1048.3,141.8 1058.0,141.2C1067.7,140.6 1077.3,139.6 1087.0,139.0C1096.7,138.4 1106.3,137.9 1116.0,137.7C1125.7,137.5 1135.3,137.5 1145.0,137.7C1154.7,137.8 1164.8,138.2 1174.0,138.5C1183.2,138.8 1192.4,139.3 1200.0,139.5C1207.6,139.8 1211.2,140.0 1219.4,139.8C1227.6,139.7 1241.0,139.1 1249.3,138.7C1257.6,138.3 1262.6,137.5 1269.3,137.2C1276.0,136.9 1280.9,136.8 1289.2,136.9C1297.5,136.9 1310.6,137.3 1319.1,137.4C1327.6,137.6 1336.7,137.7 1340.2,137.8L1340.2,158.1C1335.0,158.0 1319.3,157.1 1309.1,157.3C1298.9,157.5 1289.2,158.7 1279.2,159.3C1269.2,159.9 1259.3,160.9 1249.3,161.1C1239.3,161.4 1227.6,161.0 1219.4,160.7C1211.2,160.3 1207.6,159.6 1200.0,159.1C1192.4,158.6 1183.2,158.1 1174.0,157.8C1164.8,157.5 1154.7,157.4 1145.0,157.4C1135.3,157.4 1125.7,157.7 1116.0,158.0C1106.3,158.3 1096.7,158.7 1087.0,159.0C1077.3,159.3 1067.7,159.6 1058.0,159.8C1048.3,160.0 1038.7,160.2 1029.0,160.2C1019.3,160.3 1010.0,160.2 1000.0,160.1C990.0,159.9 979.3,159.5 969.2,159.3C959.1,159.2 949.3,159.0 939.3,159.2C929.3,159.4 919.4,159.9 909.4,160.2C899.4,160.6 889.1,161.2 879.5,161.4C869.9,161.7 859.9,161.8 851.6,161.7C843.3,161.5 838.7,161.1 829.7,160.6C820.7,160.1 803.1,159.0 797.8,158.7Z" fill="#3df52f"/>
<path d="M797.8,114.9C803.1,114.6 820.7,113.5 829.7,113.3C838.7,113.1 843.3,113.1 851.6,113.4C859.9,113.8 869.9,114.8 879.5,115.3C889.1,115.8 899.4,116.2 909.4,116.5C919.4,116.8 929.3,116.6 939.3,116.8C949.3,117.1 959.1,117.6 969.2,117.9C979.3,118.1 990.0,118.6 1000.0,118.6C1010.0,118.5 1019.3,118.1 1029.0,117.7C1038.7,117.3 1048.3,116.6 1058.0,116.3C1067.7,116.0 1077.3,115.8 1087.0,115.8C1096.7,115.8 1106.3,116.1 1116.0,116.3C1125.7,116.4 1135.3,116.7 1145.0,116.7C1154.7,116.7 1164.8,116.5 1174.0,116.2C1183.2,115.9 1192.4,115.3 1200.0,114.8C1207.6,114.4 1209.5,113.8 1219.4,113.5C1229.3,113.1 1247.7,112.7 1259.3,112.5C1270.9,112.3 1279.2,112.0 1289.2,112.0C1299.2,112.0 1310.6,112.1 1319.1,112.4C1327.6,112.7 1336.7,113.7 1340.2,113.9L1340.2,137.8C1336.7,137.7 1327.6,137.6 1319.1,137.4C1310.6,137.3 1297.5,136.9 1289.2,136.9C1280.9,136.8 1276.0,136.9 1269.3,137.2C1262.6,137.5 1257.6,138.3 1249.3,138.7C1241.0,139.1 1227.6,139.7 1219.4,139.8C1211.2,140.0 1207.6,139.8 1200.0,139.5C1192.4,139.3 1183.2,138.8 1174.0,138.5C1164.8,138.2 1154.7,137.8 1145.0,137.7C1135.3,137.5 1125.7,137.5 1116.0,137.7C1106.3,137.9 1096.7,138.4 1087.0,139.0C1077.3,139.6 1067.7,140.6 1058.0,141.2C1048.3,141.8 1038.7,142.5 1029.0,142.5C1019.3,142.5 1010.0,141.9 1000.0,141.4C990.0,140.9 979.3,139.7 969.2,139.2C959.1,138.8 949.3,138.4 939.3,138.4C929.3,138.5 919.4,139.0 909.4,139.4C899.4,139.7 889.1,140.2 879.5,140.3C869.9,140.5 859.9,140.3 851.6,140.1C843.3,139.8 838.7,139.2 829.7,138.8C820.7,138.5 803.1,138.0 797.8,137.8Z" fill="#fdb022"/>
<path d="M797.8,91.0C800.2,90.6 807.0,89.3 812.0,88.8C817.0,88.2 821.4,87.7 827.7,87.8C834.0,87.8 841.3,88.3 850.0,88.9C858.7,89.4 870.2,90.5 880.0,91.1C889.8,91.7 899.2,92.2 909.0,92.5C918.8,92.7 929.0,92.6 939.0,92.8C949.0,92.9 958.8,92.9 969.0,93.1C979.2,93.3 990.0,93.6 1000.0,93.9C1010.0,94.1 1019.3,94.5 1029.0,94.6C1038.7,94.6 1048.3,94.5 1058.0,94.2C1067.7,93.9 1077.3,93.2 1087.0,92.8C1096.7,92.5 1106.3,92.1 1116.0,91.9C1125.7,91.8 1135.3,92.0 1145.0,92.2C1154.7,92.4 1164.8,92.9 1174.0,93.1C1183.2,93.3 1192.4,93.6 1200.0,93.5C1207.6,93.5 1209.5,93.0 1219.4,92.5C1229.3,92.0 1247.7,90.9 1259.3,90.2C1270.9,89.6 1279.2,88.9 1289.2,88.8C1299.2,88.6 1310.6,88.8 1319.1,89.1C1327.6,89.4 1336.7,90.2 1340.2,90.4L1340.2,113.9C1336.7,113.7 1327.6,112.7 1319.1,112.4C1310.6,112.1 1299.2,112.0 1289.2,112.0C1279.2,112.0 1270.9,112.3 1259.3,112.5C1247.7,112.7 1229.3,113.1 1219.4,113.5C1209.5,113.8 1207.6,114.4 1200.0,114.8C1192.4,115.3 1183.2,115.9 1174.0,116.2C1164.8,116.5 1154.7,116.7 1145.0,116.7C1135.3,116.7 1125.7,116.4 1116.0,116.3C1106.3,116.1 1096.7,115.8 1087.0,115.8C1077.3,115.8 1067.7,116.0 1058.0,116.3C1048.3,116.6 1038.7,117.3 1029.0,117.7C1019.3,118.1 1010.0,118.5 1000.0,118.6C990.0,118.6 979.3,118.1 969.2,117.9C959.1,117.6 949.3,117.1 939.3,116.8C929.3,116.6 919.4,116.8 909.4,116.5C899.4,116.2 889.1,115.8 879.5,115.3C869.9,114.8 859.9,113.8 851.6,113.4C843.3,113.1 838.7,113.1 829.7,113.3C820.7,113.5 803.1,114.6 797.8,114.9Z" fill="#3df52f"/>
<path d="M797.8,91.0C800.2,90.6 807.0,89.3 812.0,88.8C817.0,88.2 821.4,87.7 827.7,87.8C834.0,87.8 841.3,88.3 850.0,88.9C858.7,89.4 870.2,90.5 880.0,91.1C889.8,91.7 899.2,92.2 909.0,92.5C918.8,92.7 929.0,92.6 939.0,92.8C949.0,92.9 958.8,92.9 969.0,93.1C979.2,93.3 990.0,93.6 1000.0,93.9C1010.0,94.1 1019.3,94.5 1029.0,94.6C1038.7,94.6 1048.3,94.5 1058.0,94.2C1067.7,93.9 1077.3,93.2 1087.0,92.8C1096.7,92.5 1106.3,92.1 1116.0,91.9C1125.7,91.8 1135.3,92.0 1145.0,92.2C1154.7,92.4 1164.8,92.9 1174.0,93.1C1183.2,93.3 1192.4,93.6 1200.0,93.5C1207.6,93.5 1209.5,93.0 1219.4,92.5C1229.3,92.0 1247.7,90.9 1259.3,90.2C1270.9,89.6 1279.2,88.9 1289.2,88.8C1299.2,88.6 1310.6,88.8 1319.1,89.1C1327.6,89.4 1336.7,90.2 1340.2,90.4" fill="none" stroke="#111" stroke-width="1.7" stroke-dasharray="10 1.5"/>
<path d="M797.8,114.9C803.1,114.6 820.7,113.5 829.7,113.3C838.7,113.1 843.3,113.1 851.6,113.4C859.9,113.8 869.9,114.8 879.5,115.3C889.1,115.8 899.4,116.2 909.4,116.5C919.4,116.8 929.3,116.6 939.3,116.8C949.3,117.1 959.1,117.6 969.2,117.9C979.3,118.1 990.0,118.6 1000.0,118.6C1010.0,118.5 1019.3,118.1 1029.0,117.7C1038.7,117.3 1048.3,116.6 1058.0,116.3C1067.7,116.0 1077.3,115.8 1087.0,115.8C1096.7,115.8 1106.3,116.1 1116.0,116.3C1125.7,116.4 1135.3,116.7 1145.0,116.7C1154.7,116.7 1164.8,116.5 1174.0,116.2C1183.2,115.9 1192.4,115.3 1200.0,114.8C1207.6,114.4 1209.5,113.8 1219.4,113.5C1229.3,113.1 1247.7,112.7 1259.3,112.5C1270.9,112.3 1279.2,112.0 1289.2,112.0C1299.2,112.0 1310.6,112.1 1319.1,112.4C1327.6,112.7 1336.7,113.7 1340.2,113.9" fill="none" stroke="#0a0a0a" stroke-width="2.5"/>
<path d="M797.8,137.8C803.1,138.0 820.7,138.5 829.7,138.8C838.7,139.2 843.3,139.8 851.6,140.1C859.9,140.3 869.9,140.5 879.5,140.3C889.1,140.2 899.4,139.7 909.4,139.4C919.4,139.0 929.3,138.5 939.3,138.4C949.3,138.4 959.1,138.8 969.2,139.2C979.3,139.7 990.0,140.9 1000.0,141.4C1010.0,141.9 1019.3,142.5 1029.0,142.5C1038.7,142.5 1048.3,141.8 1058.0,141.2C1067.7,140.6 1077.3,139.6 1087.0,139.0C1096.7,138.4 1106.3,137.9 1116.0,137.7C1125.7,137.5 1135.3,137.5 1145.0,137.7C1154.7,137.8 1164.8,138.2 1174.0,138.5C1183.2,138.8 1192.4,139.3 1200.0,139.5C1207.6,139.8 1211.2,140.0 1219.4,139.8C1227.6,139.7 1241.0,139.1 1249.3,138.7C1257.6,138.3 1262.6,137.5 1269.3,137.2C1276.0,136.9 1280.9,136.8 1289.2,136.9C1297.5,136.9 1310.6,137.3 1319.1,137.4C1327.6,137.6 1336.7,137.7 1340.2,137.8" fill="none" stroke="#0a0a0a" stroke-width="2.5"/>
<path d="M797.8,158.7C803.1,159.0 820.7,160.1 829.7,160.6C838.7,161.1 843.3,161.5 851.6,161.7C859.9,161.8 869.9,161.7 879.5,161.4C889.1,161.2 899.4,160.6 909.4,160.2C919.4,159.9 929.3,159.4 939.3,159.2C949.3,159.0 959.1,159.2 969.2,159.3C979.3,159.5 990.0,159.9 1000.0,160.1C1010.0,160.2 1019.3,160.3 1029.0,160.2C1038.7,160.2 1048.3,160.0 1058.0,159.8C1067.7,159.6 1077.3,159.3 1087.0,159.0C1096.7,158.7 1106.3,158.3 1116.0,158.0C1125.7,157.7 1135.3,157.4 1145.0,157.4C1154.7,157.4 1164.8,157.5 1174.0,157.8C1183.2,158.1 1192.4,158.6 1200.0,159.1C1207.6,159.6 1211.2,160.3 1219.4,160.7C1227.6,161.0 1239.3,161.4 1249.3,161.1C1259.3,160.9 1269.2,159.9 1279.2,159.3C1289.2,158.7 1298.9,157.5 1309.1,157.3C1319.3,157.1 1335.0,158.0 1340.2,158.1" fill="none" stroke="#0a0a0a" stroke-width="2.5"/>
<path d="M797.8,183.2C803.1,182.9 820.7,181.7 829.7,181.5C838.7,181.3 843.3,181.7 851.6,181.9C859.9,182.2 869.9,182.9 879.5,182.9C889.1,182.9 899.4,182.2 909.4,181.8C919.4,181.5 929.3,180.6 939.3,180.7C949.3,180.7 959.1,181.4 969.2,181.9C979.3,182.4 990.0,183.4 1000.0,183.7C1010.0,184.0 1019.3,183.8 1029.0,183.6C1038.7,183.4 1048.3,182.8 1058.0,182.5C1067.7,182.2 1077.3,182.0 1087.0,182.1C1096.7,182.2 1106.3,182.6 1116.0,182.9C1125.7,183.3 1135.3,184.1 1145.0,184.4C1154.7,184.8 1164.8,185.0 1174.0,185.1C1183.2,185.1 1192.4,184.7 1200.0,184.5C1207.6,184.2 1209.5,183.7 1219.4,183.4C1229.3,183.0 1247.7,182.6 1259.3,182.3C1270.9,182.0 1279.2,181.8 1289.2,181.8C1299.2,181.8 1310.6,182.0 1319.1,182.2C1327.6,182.4 1336.7,183.0 1340.2,183.2" fill="none" stroke="#0a0a0a" stroke-width="2.5"/>
<path d="M797.8,203.6C803.1,203.8 820.7,204.5 829.7,204.6C838.7,204.6 843.3,204.3 851.6,204.0C859.9,203.7 869.9,202.8 879.5,202.5C889.1,202.1 899.4,201.9 909.4,202.2C919.4,202.4 929.3,203.4 939.3,203.8C949.3,204.2 959.1,204.7 969.2,204.6C979.3,204.6 990.0,203.7 1000.0,203.5C1010.0,203.3 1019.3,203.5 1029.0,203.4C1038.7,203.4 1048.3,203.6 1058.0,203.3C1067.7,202.9 1077.3,202.0 1087.0,201.4C1096.7,200.8 1106.3,200.1 1116.0,199.9C1125.7,199.8 1135.3,200.1 1145.0,200.7C1154.7,201.2 1164.8,202.4 1174.0,203.2C1183.2,203.9 1190.8,204.8 1200.0,205.2C1209.2,205.5 1219.5,205.5 1229.4,205.2C1239.3,205.0 1249.3,204.1 1259.3,203.4C1269.3,202.8 1279.2,201.7 1289.2,201.3C1299.2,201.0 1310.6,200.9 1319.1,201.2C1327.6,201.6 1336.7,202.9 1340.2,203.2" fill="none" stroke="#0a0a0a" stroke-width="2.5"/>
<path d="M797.8,221.9C803.1,222.1 820.7,222.9 829.7,223.1C838.7,223.3 843.3,223.4 851.6,223.2C859.9,223.1 869.9,222.5 879.5,222.4C889.1,222.3 899.4,222.3 909.4,222.6C919.4,222.8 929.3,223.8 939.3,224.1C949.3,224.4 959.1,224.7 969.2,224.6C979.3,224.5 990.0,223.7 1000.0,223.5C1010.0,223.2 1019.3,223.1 1029.0,223.3C1038.7,223.5 1048.3,224.3 1058.0,224.6C1067.7,224.8 1077.3,225.0 1087.0,224.8C1096.7,224.6 1106.3,223.9 1116.0,223.5C1125.7,223.1 1135.3,222.7 1145.0,222.7C1154.7,222.6 1164.8,223.1 1174.0,223.2C1183.2,223.3 1189.1,223.3 1200.0,223.1C1210.9,223.0 1227.9,222.4 1239.4,222.3C1251.0,222.3 1259.3,222.6 1269.3,222.7C1279.2,222.8 1287.3,223.1 1299.1,222.9C1310.9,222.7 1333.3,221.7 1340.2,221.5" fill="none" stroke="#111" stroke-width="1.7" stroke-dasharray="10 1.5"/>
<line x1="798.0" y1="91" x2="798.0" y2="240" stroke="#111" stroke-width="1.8"/>
<rect x="798.3" y="241.7" width="542.4000000000001" height="109.30000000000001" fill="#fff" stroke="#000" stroke-width="4"/>
<line x1="789.1" y1="281.7" x2="807.1" y2="296.3" stroke="#000" stroke-width="3.2"/>
<line x1="789.1" y1="296.9" x2="807.1" y2="311.5" stroke="#000" stroke-width="3.2"/>
<line x1="1332.5" y1="281.7" x2="1350.5" y2="296.3" stroke="#000" stroke-width="3.2"/>
<line x1="1332.5" y1="296.9" x2="1350.5" y2="311.5" stroke="#000" stroke-width="3.2"/>
<rect x="798.0" y="735.5" width="542.2" height="25.5" fill="#50d6f5"/>
<path d="M797.8,724.1C803.1,724.3 820.7,725.0 829.7,725.0C838.7,725.1 843.3,724.9 851.6,724.5C859.9,724.1 869.9,723.3 879.5,723.0C889.1,722.6 899.4,722.4 909.4,722.6C919.4,722.9 929.3,723.9 939.3,724.3C949.3,724.7 959.1,725.2 969.2,725.1C979.3,725.0 990.0,724.2 1000.0,724.0C1010.0,723.8 1019.3,724.0 1029.0,724.0C1038.7,723.9 1048.3,724.1 1058.0,723.8C1067.7,723.4 1077.3,722.5 1087.0,721.9C1096.7,721.3 1106.3,720.5 1116.0,720.4C1125.7,720.3 1135.3,720.6 1145.0,721.1C1154.7,721.7 1164.8,722.9 1174.0,723.6C1183.2,724.4 1190.8,725.3 1200.0,725.7C1209.2,726.0 1219.5,726.0 1229.4,725.8C1239.3,725.5 1249.3,724.6 1259.3,723.9C1269.3,723.3 1279.2,722.2 1289.2,721.9C1299.2,721.5 1310.6,721.4 1319.1,721.8C1327.6,722.1 1336.7,723.4 1340.2,723.7L1340.2,742.0C1333.3,742.2 1310.9,743.2 1299.1,743.4C1287.3,743.6 1279.2,743.3 1269.3,743.2C1259.3,743.1 1251.0,742.8 1239.4,742.8C1227.9,742.9 1210.9,743.5 1200.0,743.6C1189.1,743.8 1183.2,743.8 1174.0,743.7C1164.8,743.6 1154.7,743.1 1145.0,743.1C1135.3,743.2 1125.7,743.6 1116.0,744.0C1106.3,744.4 1096.7,745.1 1087.0,745.3C1077.3,745.5 1067.7,745.3 1058.0,745.1C1048.3,744.8 1038.7,744.0 1029.0,743.8C1019.3,743.6 1010.0,743.8 1000.0,744.0C990.0,744.2 979.3,745.0 969.2,745.1C959.1,745.2 949.3,744.9 939.3,744.6C929.3,744.3 919.4,743.3 909.4,743.0C899.4,742.8 889.1,742.8 879.5,742.9C869.9,743.0 859.9,743.6 851.6,743.8C843.3,743.9 838.7,743.8 829.7,743.6C820.7,743.4 803.1,742.6 797.8,742.4Z" fill="#fdb022"/>
<path d="M797.8,703.7C803.1,703.4 820.7,702.2 829.7,702.0C838.7,701.8 843.3,702.2 851.6,702.5C859.9,702.7 869.9,703.4 879.5,703.4C889.1,703.4 899.4,702.7 909.4,702.4C919.4,702.0 929.3,701.1 939.3,701.1C949.3,701.2 959.1,701.9 969.2,702.4C979.3,702.9 990.0,703.9 1000.0,704.2C1010.0,704.5 1019.3,704.3 1029.0,704.1C1038.7,703.9 1048.3,703.2 1058.0,703.0C1067.7,702.8 1077.3,702.5 1087.0,702.6C1096.7,702.7 1106.3,703.1 1116.0,703.5C1125.7,703.8 1135.3,704.6 1145.0,704.9C1154.7,705.3 1164.8,705.5 1174.0,705.5C1183.2,705.6 1192.4,705.2 1200.0,705.0C1207.6,704.7 1209.5,704.2 1219.4,703.9C1229.3,703.5 1247.7,703.1 1259.3,702.8C1270.9,702.5 1279.2,702.3 1289.2,702.3C1299.2,702.3 1310.6,702.5 1319.1,702.7C1327.6,702.9 1336.7,703.5 1340.2,703.7L1340.2,723.7C1336.7,723.4 1327.6,722.1 1319.1,721.8C1310.6,721.4 1299.2,721.5 1289.2,721.9C1279.2,722.2 1269.3,723.3 1259.3,723.9C1249.3,724.6 1239.3,725.5 1229.4,725.8C1219.5,726.0 1209.2,726.0 1200.0,725.7C1190.8,725.3 1183.2,724.4 1174.0,723.6C1164.8,722.9 1154.7,721.7 1145.0,721.1C1135.3,720.6 1125.7,720.3 1116.0,720.4C1106.3,720.5 1096.7,721.3 1087.0,721.9C1077.3,722.5 1067.7,723.4 1058.0,723.8C1048.3,724.1 1038.7,723.9 1029.0,724.0C1019.3,724.0 1010.0,723.8 1000.0,724.0C990.0,724.2 979.3,725.0 969.2,725.1C959.1,725.2 949.3,724.7 939.3,724.3C929.3,723.9 919.4,722.9 909.4,722.6C899.4,722.4 889.1,722.6 879.5,723.0C869.9,723.3 859.9,724.1 851.6,724.5C843.3,724.9 838.7,725.1 829.7,725.0C820.7,725.0 803.1,724.3 797.8,724.1Z" fill="#3df52f"/>
<path d="M797.8,679.2C803.1,679.5 820.7,680.6 829.7,681.1C838.7,681.6 843.3,682.0 851.6,682.2C859.9,682.3 869.9,682.2 879.5,682.0C889.1,681.7 899.4,681.1 909.4,680.8C919.4,680.4 929.3,679.9 939.3,679.7C949.3,679.5 959.1,679.7 969.2,679.8C979.3,680.0 990.0,680.4 1000.0,680.6C1010.0,680.7 1019.3,680.8 1029.0,680.8C1038.7,680.7 1048.3,680.5 1058.0,680.3C1067.7,680.1 1077.3,679.8 1087.0,679.5C1096.7,679.2 1106.3,678.8 1116.0,678.5C1125.7,678.2 1135.3,677.9 1145.0,677.9C1154.7,677.9 1164.8,678.0 1174.0,678.3C1183.2,678.6 1192.4,679.1 1200.0,679.6C1207.6,680.1 1211.2,680.8 1219.4,681.1C1227.6,681.5 1239.3,681.9 1249.3,681.6C1259.3,681.4 1269.2,680.4 1279.2,679.8C1289.2,679.2 1298.9,678.0 1309.1,677.8C1319.3,677.6 1335.0,678.5 1340.2,678.6L1340.2,703.7C1336.7,703.5 1327.6,702.9 1319.1,702.7C1310.6,702.5 1299.2,702.3 1289.2,702.3C1279.2,702.3 1270.9,702.5 1259.3,702.8C1247.7,703.1 1229.3,703.5 1219.4,703.9C1209.5,704.2 1207.6,704.7 1200.0,705.0C1192.4,705.2 1183.2,705.6 1174.0,705.5C1164.8,705.5 1154.7,705.3 1145.0,704.9C1135.3,704.6 1125.7,703.8 1116.0,703.5C1106.3,703.1 1096.7,702.7 1087.0,702.6C1077.3,702.5 1067.7,702.8 1058.0,703.0C1048.3,703.2 1038.7,703.9 1029.0,704.1C1019.3,704.3 1010.0,704.5 1000.0,704.2C990.0,703.9 979.3,702.9 969.2,702.4C959.1,701.9 949.3,701.2 939.3,701.1C929.3,701.1 919.4,702.0 909.4,702.4C899.4,702.7 889.1,703.4 879.5,703.4C869.9,703.4 859.9,702.7 851.6,702.5C843.3,702.2 838.7,701.8 829.7,702.0C820.7,702.2 803.1,703.4 797.8,703.7Z" fill="#fdb022"/>
<path d="M797.8,658.3C803.1,658.5 820.7,659.0 829.7,659.4C838.7,659.7 843.3,660.3 851.6,660.5C859.9,660.8 869.9,661.0 879.5,660.9C889.1,660.7 899.4,660.2 909.4,659.9C919.4,659.5 929.3,659.0 939.3,659.0C949.3,658.9 959.1,659.3 969.2,659.8C979.3,660.2 990.0,661.4 1000.0,661.9C1010.0,662.4 1019.3,663.0 1029.0,663.0C1038.7,663.0 1048.3,662.3 1058.0,661.7C1067.7,661.1 1077.3,660.1 1087.0,659.5C1096.7,658.9 1106.3,658.5 1116.0,658.2C1125.7,658.0 1135.3,658.0 1145.0,658.1C1154.7,658.3 1164.8,658.7 1174.0,659.0C1183.2,659.3 1192.4,659.8 1200.0,660.0C1207.6,660.3 1211.2,660.5 1219.4,660.3C1227.6,660.2 1241.0,659.6 1249.3,659.2C1257.6,658.8 1262.6,658.0 1269.3,657.7C1276.0,657.4 1280.9,657.3 1289.2,657.4C1297.5,657.4 1310.6,657.8 1319.1,658.0C1327.6,658.1 1336.7,658.2 1340.2,658.3L1340.2,678.6C1335.0,678.5 1319.3,677.6 1309.1,677.8C1298.9,678.0 1289.2,679.2 1279.2,679.8C1269.2,680.4 1259.3,681.4 1249.3,681.6C1239.3,681.9 1227.6,681.5 1219.4,681.1C1211.2,680.8 1207.6,680.1 1200.0,679.6C1192.4,679.1 1183.2,678.6 1174.0,678.3C1164.8,678.0 1154.7,677.9 1145.0,677.9C1135.3,677.9 1125.7,678.2 1116.0,678.5C1106.3,678.8 1096.7,679.2 1087.0,679.5C1077.3,679.8 1067.7,680.1 1058.0,680.3C1048.3,680.5 1038.7,680.7 1029.0,680.8C1019.3,680.8 1010.0,680.7 1000.0,680.6C990.0,680.4 979.3,680.0 969.2,679.8C959.1,679.7 949.3,679.5 939.3,679.7C929.3,679.9 919.4,680.4 909.4,680.8C899.4,681.1 889.1,681.7 879.5,682.0C869.9,682.2 859.9,682.3 851.6,682.2C843.3,682.0 838.7,681.6 829.7,681.1C820.7,680.6 803.1,679.5 797.8,679.2Z" fill="#3df52f"/>
<path d="M797.8,635.4C803.1,635.1 820.7,634.0 829.7,633.8C838.7,633.6 843.3,633.6 851.6,634.0C859.9,634.3 869.9,635.3 879.5,635.8C889.1,636.3 899.4,636.7 909.4,637.0C919.4,637.3 929.3,637.1 939.3,637.4C949.3,637.6 959.1,638.1 969.2,638.4C979.3,638.6 990.0,639.1 1000.0,639.1C1010.0,639.1 1019.3,638.6 1029.0,638.2C1038.7,637.8 1048.3,637.1 1058.0,636.8C1067.7,636.5 1077.3,636.3 1087.0,636.3C1096.7,636.3 1106.3,636.6 1116.0,636.8C1125.7,636.9 1135.3,637.2 1145.0,637.2C1154.7,637.2 1164.8,637.0 1174.0,636.7C1183.2,636.4 1192.4,635.8 1200.0,635.3C1207.6,634.9 1209.5,634.3 1219.4,634.0C1229.3,633.6 1247.7,633.2 1259.3,633.0C1270.9,632.8 1279.2,632.5 1289.2,632.5C1299.2,632.5 1310.6,632.6 1319.1,632.9C1327.6,633.2 1336.7,634.1 1340.2,634.4L1340.2,658.3C1336.7,658.2 1327.6,658.1 1319.1,658.0C1310.6,657.8 1297.5,657.4 1289.2,657.4C1280.9,657.3 1276.0,657.4 1269.3,657.7C1262.6,658.0 1257.6,658.8 1249.3,659.2C1241.0,659.6 1227.6,660.2 1219.4,660.3C1211.2,660.5 1207.6,660.3 1200.0,660.0C1192.4,659.8 1183.2,659.3 1174.0,659.0C1164.8,658.7 1154.7,658.3 1145.0,658.1C1135.3,658.0 1125.7,658.0 1116.0,658.2C1106.3,658.5 1096.7,658.9 1087.0,659.5C1077.3,660.1 1067.7,661.1 1058.0,661.7C1048.3,662.3 1038.7,663.0 1029.0,663.0C1019.3,663.0 1010.0,662.4 1000.0,661.9C990.0,661.4 979.3,660.2 969.2,659.8C959.1,659.3 949.3,658.9 939.3,659.0C929.3,659.0 919.4,659.5 909.4,659.9C899.4,660.2 889.1,660.7 879.5,660.9C869.9,661.0 859.9,660.8 851.6,660.5C843.3,660.3 838.7,659.7 829.7,659.4C820.7,659.0 803.1,658.5 797.8,658.3Z" fill="#fdb022"/>
<path d="M797.8,611.5C800.2,611.1 807.0,609.8 812.0,609.2C817.0,608.7 821.4,608.2 827.7,608.2C834.0,608.3 841.3,608.8 850.0,609.4C858.7,609.9 870.2,611.0 880.0,611.6C889.8,612.2 899.2,612.7 909.0,613.0C918.8,613.2 929.0,613.1 939.0,613.2C949.0,613.4 958.8,613.4 969.0,613.6C979.2,613.8 990.0,614.1 1000.0,614.4C1010.0,614.6 1019.3,615.0 1029.0,615.1C1038.7,615.1 1048.3,615.0 1058.0,614.7C1067.7,614.4 1077.3,613.7 1087.0,613.3C1096.7,613.0 1106.3,612.6 1116.0,612.5C1125.7,612.3 1135.3,612.5 1145.0,612.7C1154.7,612.9 1164.8,613.4 1174.0,613.6C1183.2,613.8 1192.4,614.1 1200.0,614.0C1207.6,613.9 1209.5,613.5 1219.4,613.0C1229.3,612.5 1247.7,611.4 1259.3,610.8C1270.9,610.1 1279.2,609.4 1289.2,609.2C1299.2,609.1 1310.6,609.3 1319.1,609.6C1327.6,609.9 1336.7,610.7 1340.2,610.9L1340.2,634.4C1336.7,634.1 1327.6,633.2 1319.1,632.9C1310.6,632.6 1299.2,632.5 1289.2,632.5C1279.2,632.5 1270.9,632.8 1259.3,633.0C1247.7,633.2 1229.3,633.6 1219.4,634.0C1209.5,634.3 1207.6,634.9 1200.0,635.3C1192.4,635.8 1183.2,636.4 1174.0,636.7C1164.8,637.0 1154.7,637.2 1145.0,637.2C1135.3,637.2 1125.7,636.9 1116.0,636.8C1106.3,636.6 1096.7,636.3 1087.0,636.3C1077.3,636.3 1067.7,636.5 1058.0,636.8C1048.3,637.1 1038.7,637.8 1029.0,638.2C1019.3,638.6 1010.0,639.1 1000.0,639.1C990.0,639.1 979.3,638.6 969.2,638.4C959.1,638.1 949.3,637.6 939.3,637.4C929.3,637.1 919.4,637.3 909.4,637.0C899.4,636.7 889.1,636.3 879.5,635.8C869.9,635.3 859.9,634.3 851.6,634.0C843.3,633.6 838.7,633.6 829.7,633.8C820.7,634.0 803.1,635.1 797.8,635.4Z" fill="#3df52f"/>
<path d="M797.8,611.5C800.2,611.1 807.0,609.8 812.0,609.2C817.0,608.7 821.4,608.2 827.7,608.2C834.0,608.3 841.3,608.8 850.0,609.4C858.7,609.9 870.2,611.0 880.0,611.6C889.8,612.2 899.2,612.7 909.0,613.0C918.8,613.2 929.0,613.1 939.0,613.2C949.0,613.4 958.8,613.4 969.0,613.6C979.2,613.8 990.0,614.1 1000.0,614.4C1010.0,614.6 1019.3,615.0 1029.0,615.1C1038.7,615.1 1048.3,615.0 1058.0,614.7C1067.7,614.4 1077.3,613.7 1087.0,613.3C1096.7,613.0 1106.3,612.6 1116.0,612.5C1125.7,612.3 1135.3,612.5 1145.0,612.7C1154.7,612.9 1164.8,613.4 1174.0,613.6C1183.2,613.8 1192.4,614.1 1200.0,614.0C1207.6,613.9 1209.5,613.5 1219.4,613.0C1229.3,612.5 1247.7,611.4 1259.3,610.8C1270.9,610.1 1279.2,609.4 1289.2,609.2C1299.2,609.1 1310.6,609.3 1319.1,609.6C1327.6,609.9 1336.7,610.7 1340.2,610.9" fill="none" stroke="#111" stroke-width="1.7" stroke-dasharray="10 1.5"/>
<path d="M797.8,635.4C803.1,635.1 820.7,634.0 829.7,633.8C838.7,633.6 843.3,633.6 851.6,634.0C859.9,634.3 869.9,635.3 879.5,635.8C889.1,636.3 899.4,636.7 909.4,637.0C919.4,637.3 929.3,637.1 939.3,637.4C949.3,637.6 959.1,638.1 969.2,638.4C979.3,638.6 990.0,639.1 1000.0,639.1C1010.0,639.1 1019.3,638.6 1029.0,638.2C1038.7,637.8 1048.3,637.1 1058.0,636.8C1067.7,636.5 1077.3,636.3 1087.0,636.3C1096.7,636.3 1106.3,636.6 1116.0,636.8C1125.7,636.9 1135.3,637.2 1145.0,637.2C1154.7,637.2 1164.8,637.0 1174.0,636.7C1183.2,636.4 1192.4,635.8 1200.0,635.3C1207.6,634.9 1209.5,634.3 1219.4,634.0C1229.3,633.6 1247.7,633.2 1259.3,633.0C1270.9,632.8 1279.2,632.5 1289.2,632.5C1299.2,632.5 1310.6,632.6 1319.1,632.9C1327.6,633.2 1336.7,634.1 1340.2,634.4" fill="none" stroke="#0a0a0a" stroke-width="2.5"/>
<path d="M797.8,658.3C803.1,658.5 820.7,659.0 829.7,659.4C838.7,659.7 843.3,660.3 851.6,660.5C859.9,660.8 869.9,661.0 879.5,660.9C889.1,660.7 899.4,660.2 909.4,659.9C919.4,659.5 929.3,659.0 939.3,659.0C949.3,658.9 959.1,659.3 969.2,659.8C979.3,660.2 990.0,661.4 1000.0,661.9C1010.0,662.4 1019.3,663.0 1029.0,663.0C1038.7,663.0 1048.3,662.3 1058.0,661.7C1067.7,661.1 1077.3,660.1 1087.0,659.5C1096.7,658.9 1106.3,658.5 1116.0,658.2C1125.7,658.0 1135.3,658.0 1145.0,658.1C1154.7,658.3 1164.8,658.7 1174.0,659.0C1183.2,659.3 1192.4,659.8 1200.0,660.0C1207.6,660.3 1211.2,660.5 1219.4,660.3C1227.6,660.2 1241.0,659.6 1249.3,659.2C1257.6,658.8 1262.6,658.0 1269.3,657.7C1276.0,657.4 1280.9,657.3 1289.2,657.4C1297.5,657.4 1310.6,657.8 1319.1,658.0C1327.6,658.1 1336.7,658.2 1340.2,658.3" fill="none" stroke="#0a0a0a" stroke-width="2.5"/>
<path d="M797.8,679.2C803.1,679.5 820.7,680.6 829.7,681.1C838.7,681.6 843.3,682.0 851.6,682.2C859.9,682.3 869.9,682.2 879.5,682.0C889.1,681.7 899.4,681.1 909.4,680.8C919.4,680.4 929.3,679.9 939.3,679.7C949.3,679.5 959.1,679.7 969.2,679.8C979.3,680.0 990.0,680.4 1000.0,680.6C1010.0,680.7 1019.3,680.8 1029.0,680.8C1038.7,680.7 1048.3,680.5 1058.0,680.3C1067.7,680.1 1077.3,679.8 1087.0,679.5C1096.7,679.2 1106.3,678.8 1116.0,678.5C1125.7,678.2 1135.3,677.9 1145.0,677.9C1154.7,677.9 1164.8,678.0 1174.0,678.3C1183.2,678.6 1192.4,679.1 1200.0,679.6C1207.6,680.1 1211.2,680.8 1219.4,681.1C1227.6,681.5 1239.3,681.9 1249.3,681.6C1259.3,681.4 1269.2,680.4 1279.2,679.8C1289.2,679.2 1298.9,678.0 1309.1,677.8C1319.3,677.6 1335.0,678.5 1340.2,678.6" fill="none" stroke="#0a0a0a" stroke-width="2.5"/>
<path d="M797.8,703.7C803.1,703.4 820.7,702.2 829.7,702.0C838.7,701.8 843.3,702.2 851.6,702.5C859.9,702.7 869.9,703.4 879.5,703.4C889.1,703.4 899.4,702.7 909.4,702.4C919.4,702.0 929.3,701.1 939.3,701.1C949.3,701.2 959.1,701.9 969.2,702.4C979.3,702.9 990.0,703.9 1000.0,704.2C1010.0,704.5 1019.3,704.3 1029.0,704.1C1038.7,703.9 1048.3,703.2 1058.0,703.0C1067.7,702.8 1077.3,702.5 1087.0,702.6C1096.7,702.7 1106.3,703.1 1116.0,703.5C1125.7,703.8 1135.3,704.6 1145.0,704.9C1154.7,705.3 1164.8,705.5 1174.0,705.5C1183.2,705.6 1192.4,705.2 1200.0,705.0C1207.6,704.7 1209.5,704.2 1219.4,703.9C1229.3,703.5 1247.7,703.1 1259.3,702.8C1270.9,702.5 1279.2,702.3 1289.2,702.3C1299.2,702.3 1310.6,702.5 1319.1,702.7C1327.6,702.9 1336.7,703.5 1340.2,703.7" fill="none" stroke="#0a0a0a" stroke-width="2.5"/>
<path d="M797.8,724.1C803.1,724.3 820.7,725.0 829.7,725.0C838.7,725.1 843.3,724.9 851.6,724.5C859.9,724.1 869.9,723.3 879.5,723.0C889.1,722.6 899.4,722.4 909.4,722.6C919.4,722.9 929.3,723.9 939.3,724.3C949.3,724.7 959.1,725.2 969.2,725.1C979.3,725.0 990.0,724.2 1000.0,724.0C1010.0,723.8 1019.3,724.0 1029.0,724.0C1038.7,723.9 1048.3,724.1 1058.0,723.8C1067.7,723.4 1077.3,722.5 1087.0,721.9C1096.7,721.3 1106.3,720.5 1116.0,720.4C1125.7,720.3 1135.3,720.6 1145.0,721.1C1154.7,721.7 1164.8,722.9 1174.0,723.6C1183.2,724.4 1190.8,725.3 1200.0,725.7C1209.2,726.0 1219.5,726.0 1229.4,725.8C1239.3,725.5 1249.3,724.6 1259.3,723.9C1269.3,723.3 1279.2,722.2 1289.2,721.9C1299.2,721.5 1310.6,721.4 1319.1,721.8C1327.6,722.1 1336.7,723.4 1340.2,723.7" fill="none" stroke="#0a0a0a" stroke-width="2.5"/>
<path d="M797.8,742.4C803.1,742.6 820.7,743.4 829.7,743.6C838.7,743.8 843.3,743.9 851.6,743.8C859.9,743.6 869.9,743.0 879.5,742.9C889.1,742.8 899.4,742.8 909.4,743.0C919.4,743.3 929.3,744.3 939.3,744.6C949.3,744.9 959.1,745.2 969.2,745.1C979.3,745.0 990.0,744.2 1000.0,744.0C1010.0,743.8 1019.3,743.6 1029.0,743.8C1038.7,744.0 1048.3,744.8 1058.0,745.1C1067.7,745.3 1077.3,745.5 1087.0,745.3C1096.7,745.1 1106.3,744.4 1116.0,744.0C1125.7,743.6 1135.3,743.2 1145.0,743.1C1154.7,743.1 1164.8,743.6 1174.0,743.7C1183.2,743.8 1189.1,743.8 1200.0,743.6C1210.9,743.5 1227.9,742.9 1239.4,742.8C1251.0,742.8 1259.3,743.1 1269.3,743.2C1279.2,743.3 1287.3,743.6 1299.1,743.4C1310.9,743.2 1333.3,742.2 1340.2,742.0" fill="none" stroke="#111" stroke-width="1.7" stroke-dasharray="10 1.5"/>
<line x1="798.0" y1="611.5" x2="798.0" y2="760.5" stroke="#111" stroke-width="1.8"/>
<rect x="798.3" y="762.2" width="542.4000000000001" height="109.59999999999991" fill="#fff" stroke="#000" stroke-width="4"/>
<line x1="789.1" y1="802.2" x2="807.1" y2="816.8" stroke="#000" stroke-width="3.2"/>
<line x1="789.1" y1="817.4" x2="807.1" y2="832.0" stroke="#000" stroke-width="3.2"/>
<line x1="1332.5" y1="802.2" x2="1350.5" y2="816.8" stroke="#000" stroke-width="3.2"/>
<line x1="1332.5" y1="817.4" x2="1350.5" y2="832.0" stroke="#000" stroke-width="3.2"/>
<path d="M797,99.5 C782.8,102.5 785.8,113.5 785.8,129.5 L785.8,144.5 C785.8,158.5 781.8,164.5 775.3,166.5 C781.8,168.5 785.8,174.5 785.8,188.5 L785.8,203.3 C785.8,219.3 782.8,230.3 797,233.3" fill="none" stroke="#000" stroke-width="2.5"/>
<path d="M797,620.0 C782.8,623.0 785.8,634.0 785.8,650.0 L785.8,665.0 C785.8,679.0 781.8,685.0 775.3,687.0 C781.8,689.0 785.8,695.0 785.8,709.0 L785.8,723.8 C785.8,739.8 782.8,750.8 797,753.8" fill="none" stroke="#000" stroke-width="2.5"/>
<text transform="translate(2.2,38) scale(1.19,1)" font-size="50" fill="#000" text-anchor="start">(a)</text>
<text transform="translate(0.2,477) scale(1.19,1)" font-size="50" fill="#000" text-anchor="start">(b)</text>
<text transform="translate(226,46) scale(1.1,1)" font-size="39.5" fill="#000" text-anchor="start">Columnar grains</text>
<text transform="translate(855.2,46) scale(1.1,1)" font-size="39.5" fill="#000" text-anchor="start">Denser microstructure</text>
<text transform="translate(294.8,310.8) scale(1.088,1)" font-size="40" fill="#000" text-anchor="start">Substrate</text>
<text transform="translate(294.8,831.3) scale(1.088,1)" font-size="40" fill="#000" text-anchor="start">Substrate</text>
<text transform="translate(979.8,310.8) scale(1.088,1)" font-size="40" fill="#000" text-anchor="start">Substrate</text>
<text transform="translate(979.8,831.3) scale(1.088,1)" font-size="40" fill="#000" text-anchor="start">Substrate</text>
<text transform="translate(739.2,175.3) scale(1.03,1)" font-size="34" fill="#000" text-anchor="start">n</text>
<text transform="translate(739.2,695.8) scale(1.03,1)" font-size="34" fill="#000" text-anchor="start">n</text>
<path d="M196.0,411.9C200.3,412.4 213.3,415.1 222.0,415.1C230.7,415.1 239.3,411.9 248.0,411.9C256.7,411.9 265.3,415.1 274.0,415.1C282.7,415.1 291.3,411.9 300.0,411.9C308.7,411.9 317.3,415.1 326.0,415.1C334.7,415.1 343.3,411.9 352.0,411.9C360.7,411.9 369.3,415.1 378.0,415.1C386.7,415.1 395.3,411.9 404.0,411.9C412.7,411.9 421.3,415.1 430.0,415.1C438.7,415.1 447.3,411.9 456.0,411.9C464.7,411.9 473.3,415.1 482.0,415.1C490.7,415.1 499.3,411.9 508.0,411.9C516.7,411.9 525.3,415.1 534.0,415.1C542.7,415.1 555.7,412.4 560.0,411.9" fill="none" stroke="#94a3a9" stroke-width="5.5" stroke-linecap="round" stroke-dasharray="30 7" filter="url(#blur2)" opacity="0.8"/>
<path d="M824.0,410.9C828.3,411.4 841.3,414.1 850.0,414.1C858.7,414.1 867.3,410.9 876.0,410.9C884.7,410.9 893.3,414.1 902.0,414.1C910.7,414.1 919.3,410.9 928.0,410.9C936.7,410.9 945.3,414.1 954.0,414.1C962.7,414.1 971.3,410.9 980.0,410.9C988.7,410.9 997.3,414.1 1006.0,414.1C1014.7,414.1 1023.3,410.9 1032.0,410.9C1040.7,410.9 1049.3,414.1 1058.0,414.1C1066.7,414.1 1075.3,410.9 1084.0,410.9C1092.7,410.9 1101.3,414.1 1110.0,414.1C1118.7,414.1 1127.3,410.9 1136.0,410.9C1144.7,410.9 1153.3,414.1 1162.0,414.1C1170.7,414.1 1179.3,410.9 1188.0,410.9C1196.7,410.9 1205.3,414.1 1214.0,414.1C1222.7,414.1 1231.3,410.9 1240.0,410.9C1248.7,410.9 1257.3,414.1 1266.0,414.1C1274.7,414.1 1287.7,411.4 1292.0,410.9" fill="none" stroke="#94a3a9" stroke-width="5.5" stroke-linecap="round" stroke-dasharray="30 7" filter="url(#blur2)" opacity="0.8"/>
<text transform="translate(213.2,408.6) scale(1.128,1)" font-size="38.4" fill="#000" text-anchor="start">Pure MoS<tspan dy="9.2" font-size="23.0">2</tspan><tspan dy="-9.2"> coating</tspan></text>
<text transform="translate(838.2,407.8) scale(1.134,1)" font-size="38.4" fill="#000" text-anchor="start">MoS<tspan dy="9.2" font-size="23.0">2</tspan><tspan dy="-9.2">/Ti-MoS</tspan><tspan dy="9.2" font-size="23.0">2</tspan><tspan dy="-9.2">/Si coating</tspan></text>
<text transform="translate(588,540.5) scale(1.1,1)" font-size="29.5" fill="#000" text-anchor="start">Dislocation &amp; Crack</text>
<line x1="285.2" y1="111.6" x2="318.8" y2="62.9" stroke="#fc1426" stroke-width="3.6"/>
<polygon points="325.3,53.5 320.4,73.2 318.0,64.1 308.6,65.0" fill="#fc1426"/>
<line x1="498.0" y1="135.0" x2="457.5" y2="62.7" stroke="#fc1426" stroke-width="3.6"/>
<polygon points="451.9,52.8 467.5,65.8 458.2,64.1 454.9,72.9" fill="#fc1426"/>
<line x1="977.2" y1="106.3" x2="1007.6" y2="62.2" stroke="#fc1426" stroke-width="3.6"/>
<polygon points="1014.1,52.8 1009.2,72.5 1006.8,63.4 997.4,64.4" fill="#fc1426"/>
<line x1="1167.9" y1="129.3" x2="1130.5" y2="62.2" stroke="#fc1426" stroke-width="3.6"/>
<polygon points="1124.9,52.2 1140.4,65.3 1131.2,63.5 1127.9,72.3" fill="#fc1426"/>
<ellipse cx="1277.8" cy="159.1" rx="23.3" ry="21" fill="none" stroke="#fc1426" stroke-width="3.4"/>
<line x1="1281" y1="138" x2="1401" y2="91" stroke="#fc1426" stroke-width="3.2"/>
<line x1="1266" y1="178.5" x2="1400" y2="349.5" stroke="#fc1426" stroke-width="3.2"/>
<rect x="1401.1" y="90.6" width="300" height="260" fill="#fff" stroke="#fc1426" stroke-width="3.8"/>
<path d="M1417.8,148.5 L1527,140.2 L1595.6,148.5 L1595.6,219 L1547.4,214.8 L1417.8,219 Z" fill="#3df52f"/>
<path d="M1417.8,219 L1547.4,214.8 L1595.6,219 L1595.6,300 Q1507,289.5 1417.8,300 Z" fill="#fdb022"/>
<path d="M1417.8,148.5 L1527,140.2 L1595.6,148.5 L1595.6,300 Q1507,289.5 1417.8,300 Z" fill="none" stroke="#111" stroke-width="2"/>
<path d="M1417.8,219 L1547.4,214.8 L1595.6,219" fill="none" stroke="#111" stroke-width="2"/>
<rect x="1431.7" y="159.6" width="115.4" height="15.2" fill="#909a9c" stroke="#e8f2ee" stroke-width="1.4"/>
<rect x="1508.5" y="184.6" width="76.9" height="8.8" fill="#909a9c" stroke="#e8f2ee" stroke-width="1.4"/>
<rect x="1428.9" y="199.5" width="76.9" height="9.6" fill="#909a9c" stroke="#e8f2ee" stroke-width="1.4"/>
<rect x="1453" y="229.3" width="107.8" height="14.2" fill="#909a9c" stroke="#e8f2ee" stroke-width="1.4"/>
<rect x="1508.5" y="255.2" width="76.9" height="10.0" fill="#909a9c" stroke="#e8f2ee" stroke-width="1.4"/>
<rect x="1428.9" y="276.3" width="95.9" height="13.5" fill="#909a9c" stroke="#e8f2ee" stroke-width="1.4"/>
<text transform="translate(1450.3,129.1) scale(1.152,1)" font-size="28" fill="#3ff23a" text-anchor="start">MoS<tspan dy="6.7" font-size="16.8">2</tspan><tspan dy="-6.7">/Si</tspan></text>
<text transform="translate(1448.2,331.5) scale(1.175,1)" font-size="28" fill="#fcb02a" text-anchor="start">MoS<tspan dy="6.7" font-size="16.8">2</tspan><tspan dy="-6.7">/Ti</tspan></text>
<text transform="translate(1622.3,213) scale(1.157,1)" font-size="25" fill="#000" text-anchor="start">MoS<tspan dy="6.0" font-size="15.0">2</tspan><tspan dy="-6.0"></tspan></text>
<text transform="translate(1624.2,243) scale(1.087,1)" font-size="27" fill="#000" text-anchor="start">(002)</text>
<line x1="1586.7" y1="188.4" x2="1610.5" y2="202.8" stroke="#fc1426" stroke-width="3.4"/>
<polygon points="1618.7,207.8 1601.6,205.1 1609.4,202.2 1608.4,193.9" fill="#fc1426"/>
<line x1="1561.3" y1="236.5" x2="1609.3" y2="226.1" stroke="#fc1426" stroke-width="3.4"/>
<polygon points="1618.7,224.1 1604.5,233.9 1608.1,226.4 1601.7,221.0" fill="#fc1426"/>
<line x1="1586.3" y1="260.2" x2="1610.9" y2="242.6" stroke="#fc1426" stroke-width="3.4"/>
<polygon points="1618.7,237.0 1609.5,251.7 1609.9,243.3 1601.8,240.9" fill="#fc1426"/>
<ellipse cx="379.6" cy="648.1" rx="81.3" ry="45.2" fill="none" stroke="#fc1426" stroke-width="3.1" stroke-dasharray="13.5 8.5" stroke-dashoffset="4"/>
<path d="M312.6,648.8 L344.7,619.8 L353.6,629.0 L374.1,610.5" fill="none" stroke="#fff" stroke-width="13.5" stroke-linejoin="round" stroke-linecap="round" filter="url(#glow)" opacity="0.7"/>
<path d="M312.6,648.8 L344.7,619.8 L353.6,629.0 L374.1,610.5" fill="none" stroke="#fff" stroke-width="9" stroke-linejoin="round" stroke-linecap="round" filter="url(#glowb)"/>
<path d="M312.6,648.8 L344.7,619.8 L353.6,629.0 L374.1,610.5" fill="none" stroke="#fff" stroke-width="6.5" stroke-linejoin="miter"/>
<path d="M312.6,648.8 L344.7,619.8 L353.6,629.0 L374.1,610.5" fill="none" stroke="#5a32d8" stroke-width="4.1" stroke-linejoin="miter"/>
<path d="M352.9,679.6 L361.8,652.9 L374.8,655.4 L385.5,620.8" fill="none" stroke="#fff" stroke-width="13.5" stroke-linejoin="round" stroke-linecap="round" filter="url(#glow)" opacity="0.7"/>
<path d="M352.9,679.6 L361.8,652.9 L374.8,655.4 L385.5,620.8" fill="none" stroke="#fff" stroke-width="9" stroke-linejoin="round" stroke-linecap="round" filter="url(#glowb)"/>
<path d="M352.9,679.6 L361.8,652.9 L374.8,655.4 L385.5,620.8" fill="none" stroke="#fff" stroke-width="6.5" stroke-linejoin="miter"/>
<path d="M352.9,679.6 L361.8,652.9 L374.8,655.4 L385.5,620.8" fill="none" stroke="#5a32d8" stroke-width="4.1" stroke-linejoin="miter"/>
<path d="M391.9,614.4 L413.1,627.6 L404.2,637.2 L443.9,663.9" fill="none" stroke="#fff" stroke-width="13.5" stroke-linejoin="round" stroke-linecap="round" filter="url(#glow)" opacity="0.7"/>
<path d="M391.9,614.4 L413.1,627.6 L404.2,637.2 L443.9,663.9" fill="none" stroke="#fff" stroke-width="9" stroke-linejoin="round" stroke-linecap="round" filter="url(#glowb)"/>
<path d="M391.9,614.4 L413.1,627.6 L404.2,637.2 L443.9,663.9" fill="none" stroke="#fff" stroke-width="6.5" stroke-linejoin="miter"/>
<path d="M391.9,614.4 L413.1,627.6 L404.2,637.2 L443.9,663.9" fill="none" stroke="#5a32d8" stroke-width="4.1" stroke-linejoin="miter"/>
<path d="M356.4,471.3 L411.9,471.3 L411.9,588.3 L384.3,616.1 L356.4,588.3 Z" fill="#dcdfde" stroke="#4a5052" stroke-width="1.5" stroke-linejoin="round"/>
<text transform="translate(394.3,581) scale(1.1,1) rotate(-90)" font-size="26">Indenter</text>
<polyline points="427,611.5 441.6,618.5 480,607.1" fill="none" stroke="#fc1426" stroke-width="2.9" stroke-linejoin="miter"/>
<line x1="441.6" y1="618.5" x2="671.6" y2="550.3" stroke="#fc1426" stroke-width="2.9"/>
<polygon points="681.4,547.4 666.6,557.4 670.3,550.7 663.6,547.1" fill="#fc1426"/>
<line x1="1039.6" y1="613.1" x2="813.5" y2="550.1" stroke="#fc1426" stroke-width="2.9"/>
<polygon points="803.7,547.4 821.5,546.8 814.8,550.5 818.6,557.2" fill="#fc1426"/>
<ellipse cx="1071.6" cy="631.9" rx="45.5" ry="22" fill="none" stroke="#fc1426" stroke-width="2.6" stroke-dasharray="11 6"/>
<path d="M1038.2,632.6 L1052.8,619.3 L1057.8,624.4 L1066.6,614.3" fill="none" stroke="#fff" stroke-width="8.25" stroke-linejoin="round" stroke-linecap="round" filter="url(#glow1)" opacity="0.7"/>
<path d="M1038.2,632.6 L1052.8,619.3 L1057.8,624.4 L1066.6,614.3" fill="none" stroke="#fff" stroke-width="5.5" stroke-linejoin="round" stroke-linecap="round" filter="url(#glow1b)"/>
<path d="M1038.2,632.6 L1052.8,619.3 L1057.8,624.4 L1066.6,614.3" fill="none" stroke="#fff" stroke-width="4.5" stroke-linejoin="miter"/>
<path d="M1038.2,632.6 L1052.8,619.3 L1057.8,624.4 L1066.6,614.3" fill="none" stroke="#5a32d8" stroke-width="2.1" stroke-linejoin="miter"/>
<path d="M1056.5,646.9 L1061.6,631.9 L1066.6,633.1 L1069.8,617.6" fill="none" stroke="#fff" stroke-width="8.25" stroke-linejoin="round" stroke-linecap="round" filter="url(#glow1)" opacity="0.7"/>
<path d="M1056.5,646.9 L1061.6,631.9 L1066.6,633.1 L1069.8,617.6" fill="none" stroke="#fff" stroke-width="5.5" stroke-linejoin="round" stroke-linecap="round" filter="url(#glow1b)"/>
<path d="M1056.5,646.9 L1061.6,631.9 L1066.6,633.1 L1069.8,617.6" fill="none" stroke="#fff" stroke-width="4.5" stroke-linejoin="miter"/>
<path d="M1056.5,646.9 L1061.6,631.9 L1066.6,633.1 L1069.8,617.6" fill="none" stroke="#5a32d8" stroke-width="2.1" stroke-linejoin="miter"/>
<path d="M1073.3,616.8 L1083.4,625.6 L1079.9,628.6 L1097.9,638.7" fill="none" stroke="#fff" stroke-width="8.25" stroke-linejoin="round" stroke-linecap="round" filter="url(#glow1)" opacity="0.7"/>
<path d="M1073.3,616.8 L1083.4,625.6 L1079.9,628.6 L1097.9,638.7" fill="none" stroke="#fff" stroke-width="5.5" stroke-linejoin="round" stroke-linecap="round" filter="url(#glow1b)"/>
<path d="M1073.3,616.8 L1083.4,625.6 L1079.9,628.6 L1097.9,638.7" fill="none" stroke="#fff" stroke-width="4.5" stroke-linejoin="miter"/>
<path d="M1073.3,616.8 L1083.4,625.6 L1079.9,628.6 L1097.9,638.7" fill="none" stroke="#5a32d8" stroke-width="2.1" stroke-linejoin="miter"/>
<path d="M1043.2,471.3 L1098.4,471.3 L1098.4,588 L1070.3,616.3 L1043.2,588 Z" fill="#dcdfde" stroke="#4a5052" stroke-width="1.5" stroke-linejoin="round"/>
<text transform="translate(1082.3,580.6) scale(1.1,1) rotate(-90)" font-size="26">Indenter</text>
<line x1="1066.6" y1="606.8" x2="1397" y2="586" stroke="#fc1426" stroke-width="2.8"/>
<line x1="1396.5" y1="870.8" x2="1078.6" y2="658.9" stroke="#fc1426" stroke-width="3.3"/>
<polygon points="1071.1,653.9 1086.8,657.4 1079.6,659.6 1080.4,667.0" fill="#fc1426"/>
<rect x="1396.8" y="585.3" width="298.2" height="285.3" fill="#fff" stroke="#fc1426" stroke-width="3.6"/>
<path d="M1421.7,631.5C1430.7,632.0 1457.0,634.6 1475.5,634.6C1494.0,634.6 1519.2,632.1 1532.9,631.5C1546.6,630.9 1543.4,631.6 1557.7,630.8C1572.0,630.0 1600.1,627.2 1618.9,626.6C1637.7,626.0 1661.9,627.2 1670.5,627.3L1670.5,675.1C1663.5,675.0 1641.8,674.9 1628.4,674.7C1615.0,674.5 1606.1,674.2 1590.2,674.1C1574.3,674.0 1552.0,673.8 1532.9,674.1C1513.8,674.4 1494.0,675.2 1475.5,676.1C1457.0,677.0 1430.7,678.8 1421.7,679.3Z" fill="#3df52f"/>
<path d="M1421.7,679.3C1430.7,678.8 1457.0,677.0 1475.5,676.1C1494.0,675.2 1513.8,674.4 1532.9,674.1C1552.0,673.8 1574.3,674.0 1590.2,674.1C1606.1,674.2 1615.0,674.5 1628.4,674.7C1641.8,674.9 1663.5,675.0 1670.5,675.1L1670.5,715.4C1663.5,715.3 1639.6,714.7 1628.4,714.9C1617.2,715.1 1615.0,715.6 1603.6,716.8C1592.2,718.0 1577.3,720.5 1560.0,722.0C1542.7,723.5 1517.3,725.0 1500.0,726.0C1482.7,727.0 1469.5,728.2 1456.4,728.2C1443.4,728.2 1427.5,726.6 1421.7,726.3Z" fill="#fdb022"/>
<path d="M1421.7,726.3C1427.5,726.6 1443.4,728.2 1456.4,728.2C1469.5,728.2 1482.7,727.0 1500.0,726.0C1517.3,725.0 1542.7,723.5 1560.0,722.0C1577.3,720.5 1592.2,718.0 1603.6,716.8C1615.0,715.6 1617.2,715.1 1628.4,714.9C1639.6,714.7 1663.5,715.3 1670.5,715.4L1670.5,752.1C1663.5,752.4 1641.8,753.5 1628.4,754.0C1615.0,754.5 1609.9,754.5 1590.2,755.0C1570.5,755.5 1530.7,756.3 1510.0,756.9C1489.3,757.5 1480.7,758.3 1466.0,758.4C1451.3,758.5 1429.1,757.6 1421.7,757.5Z" fill="#3df52f"/>
<path d="M1421.7,757.5C1429.1,757.6 1451.3,758.5 1466.0,758.4C1480.7,758.3 1489.3,757.5 1510.0,756.9C1530.7,756.3 1570.5,755.5 1590.2,755.0C1609.9,754.5 1615.0,754.5 1628.4,754.0C1641.8,753.5 1663.5,752.4 1670.5,752.1L1670.5,801.8C1663.5,801.8 1639.9,802.0 1628.4,801.8C1616.9,801.5 1624.0,800.3 1601.7,800.3C1579.4,800.3 1524.7,801.1 1494.7,801.8C1464.7,802.5 1433.9,804.2 1421.7,804.7Z" fill="#fdb022"/>
<path d="M1421.7,631.5C1430.7,632.0 1457.0,634.6 1475.5,634.6C1494.0,634.6 1519.2,632.1 1532.9,631.5C1546.6,630.9 1543.4,631.6 1557.7,630.8C1572.0,630.0 1600.1,627.2 1618.9,626.6C1637.7,626.0 1661.9,627.2 1670.5,627.3" fill="none" stroke="#111" stroke-width="2.2"/>
<path d="M1421.7,679.3C1430.7,678.8 1457.0,677.0 1475.5,676.1C1494.0,675.2 1513.8,674.4 1532.9,674.1C1552.0,673.8 1574.3,674.0 1590.2,674.1C1606.1,674.2 1615.0,674.5 1628.4,674.7C1641.8,674.9 1663.5,675.0 1670.5,675.1" fill="none" stroke="#111" stroke-width="2.2"/>
<path d="M1421.7,726.3C1427.5,726.6 1443.4,728.2 1456.4,728.2C1469.5,728.2 1482.7,727.0 1500.0,726.0C1517.3,725.0 1542.7,723.5 1560.0,722.0C1577.3,720.5 1592.2,718.0 1603.6,716.8C1615.0,715.6 1617.2,715.1 1628.4,714.9C1639.6,714.7 1663.5,715.3 1670.5,715.4" fill="none" stroke="#111" stroke-width="2.2"/>
<path d="M1421.7,757.5C1429.1,757.6 1451.3,758.5 1466.0,758.4C1480.7,758.3 1489.3,757.5 1510.0,756.9C1530.7,756.3 1570.5,755.5 1590.2,755.0C1609.9,754.5 1615.0,754.5 1628.4,754.0C1641.8,753.5 1663.5,752.4 1670.5,752.1" fill="none" stroke="#111" stroke-width="2.2"/>
<path d="M1421.7,804.7C1433.9,804.2 1464.7,802.5 1494.7,801.8C1524.7,801.1 1579.4,800.3 1601.7,800.3C1624.0,800.3 1616.9,801.5 1628.4,801.8C1639.9,802.0 1663.5,801.8 1670.5,801.8" fill="none" stroke="#111" stroke-width="2.2"/>
<line x1="1421.7" y1="631.5" x2="1421.7" y2="804.7" stroke="#111" stroke-width="1.6"/>
<line x1="1670.5" y1="627.3" x2="1670.5" y2="801.8" stroke="#111" stroke-width="1.6"/>
<path d="M1549.1,683.7 L1648.5,747.4 L1587.3,747.4 L1608.4,830.5 L1549.1,816.1 L1489.9,828.6 L1511.9,747.4 L1450.7,747.4 Z" fill="url(#pink)"/>
<path d="M1483.2,666.5 L1512.8,641.7 L1520.5,648.7 L1538.6,634.0" fill="none" stroke="#fff" stroke-width="9.0" stroke-linejoin="round" stroke-linecap="round" filter="url(#glow1)" opacity="0.7"/>
<path d="M1483.2,666.5 L1512.8,641.7 L1520.5,648.7 L1538.6,634.0" fill="none" stroke="#fff" stroke-width="6" stroke-linejoin="round" stroke-linecap="round" filter="url(#glow1b)"/>
<path d="M1483.2,666.5 L1512.8,641.7 L1520.5,648.7 L1538.6,634.0" fill="none" stroke="#fff" stroke-width="4.4" stroke-linejoin="miter"/>
<path d="M1483.2,666.5 L1512.8,641.7 L1520.5,648.7 L1538.6,634.0" fill="none" stroke="#5a32d8" stroke-width="2" stroke-linejoin="miter"/>
<path d="M1519.5,695.2 L1531.0,664.0 L1542.4,665.5 L1549.1,641.1" fill="none" stroke="#fff" stroke-width="9.0" stroke-linejoin="round" stroke-linecap="round" filter="url(#glow1)" opacity="0.7"/>
<path d="M1519.5,695.2 L1531.0,664.0 L1542.4,665.5 L1549.1,641.1" fill="none" stroke="#fff" stroke-width="6" stroke-linejoin="round" stroke-linecap="round" filter="url(#glow1b)"/>
<path d="M1519.5,695.2 L1531.0,664.0 L1542.4,665.5 L1549.1,641.1" fill="none" stroke="#fff" stroke-width="4.4" stroke-linejoin="miter"/>
<path d="M1519.5,695.2 L1531.0,664.0 L1542.4,665.5 L1549.1,641.1" fill="none" stroke="#5a32d8" stroke-width="2" stroke-linejoin="miter"/>
<path d="M1554.3,635.9 L1573.0,648.0 L1566.3,656.4 L1601.7,680.5" fill="none" stroke="#fff" stroke-width="9.0" stroke-linejoin="round" stroke-linecap="round" filter="url(#glow1)" opacity="0.7"/>
<path d="M1554.3,635.9 L1573.0,648.0 L1566.3,656.4 L1601.7,680.5" fill="none" stroke="#fff" stroke-width="6" stroke-linejoin="round" stroke-linecap="round" filter="url(#glow1b)"/>
<path d="M1554.3,635.9 L1573.0,648.0 L1566.3,656.4 L1601.7,680.5" fill="none" stroke="#fff" stroke-width="4.4" stroke-linejoin="miter"/>
<path d="M1554.3,635.9 L1573.0,648.0 L1566.3,656.4 L1601.7,680.5" fill="none" stroke="#5a32d8" stroke-width="2" stroke-linejoin="miter"/>
<polygon points="1512.8,603.4 1578.7,603.4 1545.7,637.3" fill="#d8dcdc" stroke="#222" stroke-width="1.6" stroke-linejoin="round"/>
<text transform="translate(1468,851.1) scale(1.1,1)" font-size="29.5" fill="#000" text-anchor="start">Obstruction</text>
</svg></body></html>
